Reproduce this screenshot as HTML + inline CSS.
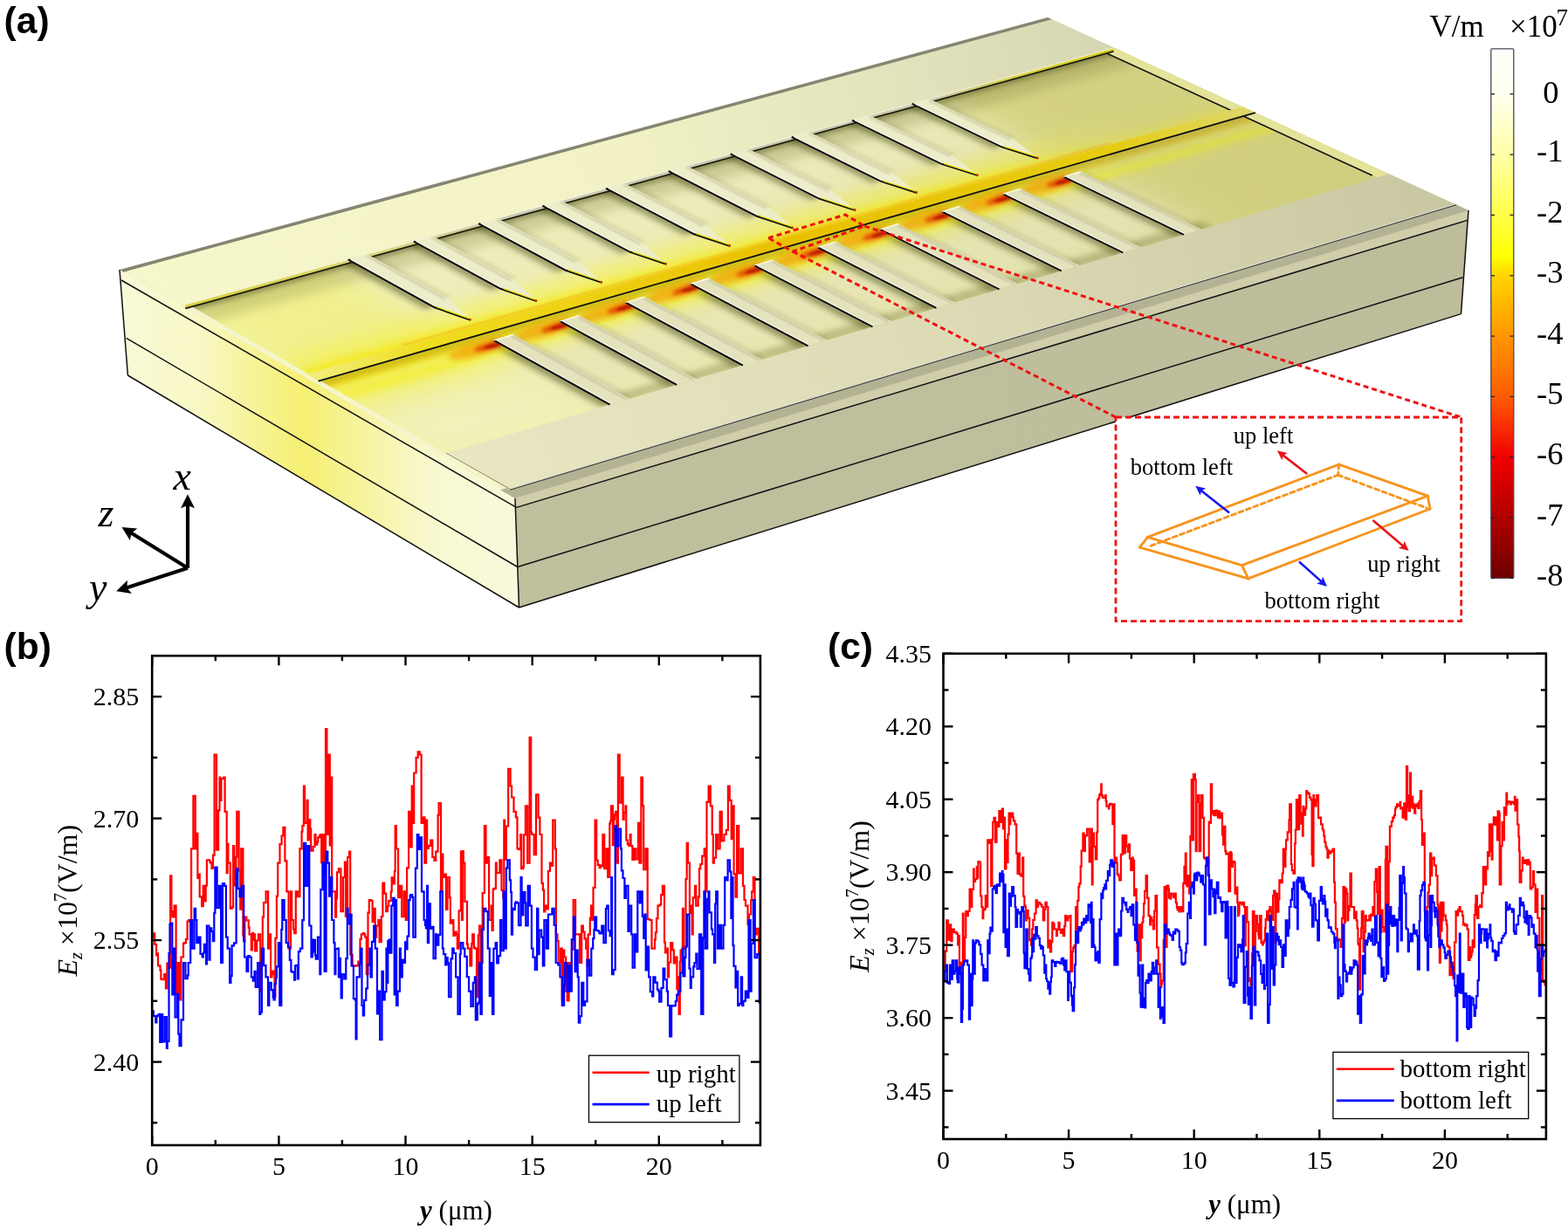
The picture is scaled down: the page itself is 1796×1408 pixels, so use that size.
<!DOCTYPE html>
<html><head><meta charset="utf-8"><title>Figure</title>
<style>html,body{margin:0;padding:0;background:#fff;width:1796px;height:1408px;overflow:hidden;} svg{display:block;}</style></head>
<body><svg width="1796" height="1408" viewBox="0 0 1796 1408">
<defs><linearGradient id="gLeft" gradientUnits="userSpaceOnUse" x1="137" y1="0" x2="594" y2="0">
<stop offset="0" stop-color="#f9f9d9"/><stop offset="0.2" stop-color="#f8f8c6"/>
<stop offset="0.31" stop-color="#f7f4a0"/><stop offset="0.46" stop-color="#f5ef72"/><stop offset="0.62" stop-color="#f7f4a2"/>
<stop offset="0.78" stop-color="#f8f8d0"/><stop offset="1" stop-color="#f9f9dc"/></linearGradient><linearGradient id="gFront" gradientUnits="userSpaceOnUse" x1="590" y1="0" x2="1682" y2="0">
<stop offset="0" stop-color="#c0bf9e"/><stop offset="1" stop-color="#bdbc9b"/></linearGradient><linearGradient id="gTop" gradientUnits="userSpaceOnUse" x1="300" y1="450" x2="1500" y2="100">
<stop offset="0" stop-color="#f3f3a4"/><stop offset="0.35" stop-color="#eeee9c"/>
<stop offset="0.7" stop-color="#dcdb8c"/><stop offset="1" stop-color="#d0cf84"/></linearGradient><clipPath id="cTop"><polygon points="137.0,309.0 1200.0,20.0 1682.0,241.0 590.0,571.0"/></clipPath><filter id="blur6" x="-20%" y="-20%" width="140%" height="140%"><feGaussianBlur stdDeviation="6"/></filter><filter id="blur3" x="-20%" y="-20%" width="140%" height="140%"><feGaussianBlur stdDeviation="3"/></filter><filter id="blur4" x="-20%" y="-20%" width="140%" height="140%"><feGaussianBlur stdDeviation="4"/></filter><filter id="blur10" x="-20%" y="-20%" width="140%" height="140%"><feGaussianBlur stdDeviation="10"/></filter><filter id="blur16" x="-20%" y="-20%" width="140%" height="140%"><feGaussianBlur stdDeviation="16"/></filter><filter id="blur2" x="-50%" y="-50%" width="200%" height="200%"><feGaussianBlur stdDeviation="2"/></filter><filter id="blur1" x="-50%" y="-50%" width="200%" height="200%"><feGaussianBlur stdDeviation="1.2"/></filter><linearGradient id="gGlow1" gradientUnits="userSpaceOnUse" x1="1129.6" y1="214.1" x2="1293.6" y2="167.1"><stop offset="0" stop-color="#f6ef40" stop-opacity="1"/><stop offset="1" stop-color="#f6ef40" stop-opacity="0.15"/></linearGradient><linearGradient id="gGlow2" gradientUnits="userSpaceOnUse" x1="1129.6" y1="214.1" x2="1293.6" y2="167.1"><stop offset="0" stop-color="#f4e600" stop-opacity="1"/><stop offset="1" stop-color="#f4e600" stop-opacity="0.3"/></linearGradient><linearGradient id="gBack" gradientUnits="userSpaceOnUse" x1="150" y1="330" x2="1278" y2="40">
<stop offset="0" stop-color="#f7f7cc"/><stop offset="0.5" stop-color="#f2f2c6"/><stop offset="1" stop-color="#d6d6b4"/></linearGradient><linearGradient id="gBackSide" gradientUnits="userSpaceOnUse" x1="213" y1="347" x2="1278" y2="55">
<stop offset="0" stop-color="#d8d040"/><stop offset="0.18" stop-color="#dcd870"/><stop offset="0.35" stop-color="#c8c8b0"/><stop offset="0.8" stop-color="#c8c8b0"/><stop offset="0.9" stop-color="#d8d040"/><stop offset="1" stop-color="#d4cc20"/></linearGradient><linearGradient id="gCen" gradientUnits="userSpaceOnUse" x1="352" y1="434" x2="1438" y2="128">
<stop offset="0" stop-color="#f2ee80"/><stop offset="0.12" stop-color="#f0de20"/><stop offset="0.5" stop-color="#eac000"/><stop offset="0.85" stop-color="#e6cc10"/><stop offset="1" stop-color="#dcd870"/></linearGradient><linearGradient id="gFs" gradientUnits="userSpaceOnUse" x1="510" y1="540" x2="1666" y2="215">
<stop offset="0" stop-color="#e9e7c2"/><stop offset="0.5" stop-color="#dddbb5"/><stop offset="1" stop-color="#c9c7a2"/></linearGradient><linearGradient id="gCb" x1="0" y1="0" x2="0" y2="1">
<stop offset="0" stop-color="#fffffa"/><stop offset="0.0857" stop-color="#fffff0"/>
<stop offset="0.2" stop-color="#ffffa6"/><stop offset="0.3143" stop-color="#ffff48"/>
<stop offset="0.394" stop-color="#ffff00"/><stop offset="0.4286" stop-color="#ffd400"/>
<stop offset="0.5429" stop-color="#ff9600"/><stop offset="0.6571" stop-color="#ff5c00"/>
<stop offset="0.7714" stop-color="#f00000"/><stop offset="0.8857" stop-color="#b00000"/><stop offset="1" stop-color="#6e0000"/></linearGradient><clipPath id="cpb"><rect x="174.2" y="751.3" width="696.7" height="560.7"/></clipPath><clipPath id="cpc"><rect x="1080.5" y="748.8" width="690.4000000000001" height="556.2"/></clipPath></defs>
<rect width="1796" height="1408" fill="#fff"/>
<polygon points="137.0,309.0 590.0,571.0 594.5,696.0 146.4,430.0" fill="url(#gLeft)"/><polygon points="590.0,571.0 1682.0,241.0 1673.5,359.6 594.5,696.0" fill="url(#gFront)"/><polygon points="590.0,571.0 1682.0,241.0 1680.6,252.4 591.6,581.4" fill="#cfcdaa"/><polygon points="137.0,309.0 1200.0,20.0 1682.0,241.0 590.0,571.0" fill="url(#gTop)"/><g clip-path="url(#cTop)"><polygon points="381.9,303.5 1078.4,110.8 1194.6,166.4 493.4,365.5" fill="#ecebc4" opacity="0.75" filter="url(#blur16)"/><polygon points="566.7,406.3 1271.0,202.9 1388.4,259.1 679.6,469.1" fill="#e6e5bc" opacity="0.8" filter="url(#blur16)"/><polygon points="188.2,338.6 348.8,294.4 573.7,419.9 410.6,467.2" fill="#f0ee78" opacity="0.45" filter="url(#blur16)"/><polygon points="429.0,477.9 603.9,427.0 693.9,477.1 518.1,529.4" fill="#f2f2cc" opacity="0.6" filter="url(#blur16)"/><polygon points="1046.5,95.6 1245.6,40.9 1631.0,217.6 1428.4,278.2" fill="#cfcd78" opacity="0.45" filter="url(#blur16)"/><polygon points="315.4,412.2 1390.4,107.3 1482.0,149.3 401.4,461.9" fill="url(#gGlow1)" opacity="0.5" filter="url(#blur10)"/><polygon points="338.7,425.7 1415.3,118.7 1452.8,135.9 374.0,446.1" fill="url(#gGlow2)" opacity="0.65" filter="url(#blur4)"/><polygon points="205.5,348.6 1273.2,53.6 1287.1,59.9 218.5,356.1" fill="#4a4a1c" opacity="0.5" filter="url(#blur3)"/><polygon points="205.5,348.6 1273.2,53.6 1310.3,70.6 240.2,368.7" fill="#4a4a1c" opacity="0.18" filter="url(#blur6)"/><polygon points="684.9,457.4 1376.0,253.2 1390.9,260.3 699.3,465.3" fill="#4a4a1c" opacity="0.25" filter="url(#blur3)"/><polygon points="359.5,437.7 1437.4,128.8 1445.6,132.6 367.2,442.1" fill="#6a6020" opacity="0.35" filter="url(#blur3)"/><polygon points="390.4,301.1 400.6,298.3 496.3,351.4 486.1,354.3" fill="#484818" opacity="0.42" filter="url(#blur3)"/><polygon points="556.8,393.5 567.1,390.6 697.7,462.9 687.3,466.0" fill="#484818" opacity="0.42" filter="url(#blur3)"/><polygon points="396.1,299.6 400.6,298.3 496.3,351.4 491.8,352.7" fill="#404010" opacity="0.35" filter="url(#blur2)"/><polygon points="562.5,391.9 567.1,390.6 697.7,462.9 693.0,464.3" fill="#404010" opacity="0.35" filter="url(#blur2)"/><polygon points="422.6,292.2 427.1,291.0 516.2,340.1 511.7,341.4" fill="#505020" opacity="0.18" filter="url(#blur2)"/><polygon points="589.3,384.2 593.9,382.9 724.7,454.9 720.1,456.3" fill="#505020" opacity="0.18" filter="url(#blur2)"/><polygon points="465.7,280.3 475.7,277.5 571.9,330.0 561.8,332.9" fill="#484818" opacity="0.42" filter="url(#blur3)"/><polygon points="632.9,371.7 643.0,368.7 774.2,440.2 764.0,443.3" fill="#484818" opacity="0.42" filter="url(#blur3)"/><polygon points="471.2,278.8 475.7,277.5 571.9,330.0 567.4,331.3" fill="#404010" opacity="0.35" filter="url(#blur2)"/><polygon points="638.5,370.0 643.0,368.7 774.2,440.2 769.7,441.6" fill="#404010" opacity="0.35" filter="url(#blur2)"/><polygon points="497.4,271.5 501.9,270.3 591.5,318.8 587.0,320.1" fill="#505020" opacity="0.18" filter="url(#blur2)"/><polygon points="665.0,362.4 669.5,361.1 800.9,432.3 796.4,433.7" fill="#505020" opacity="0.18" filter="url(#blur2)"/><polygon points="540.0,259.8 549.9,257.0 646.7,308.9 636.7,311.7" fill="#484818" opacity="0.42" filter="url(#blur3)"/><polygon points="708.0,350.0 718.1,347.2 849.9,417.8 839.8,420.8" fill="#484818" opacity="0.42" filter="url(#blur3)"/><polygon points="545.5,258.2 549.9,257.0 646.7,308.9 642.2,310.1" fill="#404010" opacity="0.35" filter="url(#blur2)"/><polygon points="713.6,348.4 718.1,347.2 849.9,417.8 845.4,419.2" fill="#404010" opacity="0.35" filter="url(#blur2)"/><polygon points="571.4,251.1 575.8,249.8 665.9,297.8 661.4,299.1" fill="#505020" opacity="0.18" filter="url(#blur2)"/><polygon points="739.8,340.9 744.2,339.6 876.3,410.0 871.8,411.4" fill="#505020" opacity="0.18" filter="url(#blur2)"/><polygon points="613.5,239.4 623.3,236.7 720.5,288.0 710.6,290.8" fill="#484818" opacity="0.42" filter="url(#blur3)"/><polygon points="782.3,328.7 792.3,325.8 924.7,395.7 914.7,398.7" fill="#484818" opacity="0.42" filter="url(#blur3)"/><polygon points="619.0,237.9 623.3,236.7 720.5,288.0 716.1,289.2" fill="#404010" opacity="0.35" filter="url(#blur2)"/><polygon points="787.8,327.1 792.3,325.8 924.7,395.7 920.2,397.0" fill="#404010" opacity="0.35" filter="url(#blur2)"/><polygon points="644.6,230.8 648.9,229.6 739.4,277.1 735.0,278.3" fill="#505020" opacity="0.18" filter="url(#blur2)"/><polygon points="813.7,319.7 818.1,318.4 950.7,388.0 946.3,389.3" fill="#505020" opacity="0.18" filter="url(#blur2)"/><polygon points="686.2,219.3 695.9,216.6 793.5,267.3 783.7,270.1" fill="#484818" opacity="0.42" filter="url(#blur3)"/><polygon points="855.7,307.6 865.6,304.8 998.5,373.8 988.6,376.7" fill="#484818" opacity="0.42" filter="url(#blur3)"/><polygon points="691.6,217.8 695.9,216.6 793.5,267.3 789.1,268.6" fill="#404010" opacity="0.35" filter="url(#blur2)"/><polygon points="861.2,306.0 865.6,304.8 998.5,373.8 994.1,375.1" fill="#404010" opacity="0.35" filter="url(#blur2)"/><polygon points="716.9,210.8 721.2,209.6 812.0,256.6 807.7,257.8" fill="#505020" opacity="0.18" filter="url(#blur2)"/><polygon points="886.8,298.7 891.1,297.4 1024.3,366.2 1019.9,367.5" fill="#505020" opacity="0.18" filter="url(#blur2)"/><polygon points="758.0,199.5 767.6,196.8 865.6,246.9 856.0,249.7" fill="#484818" opacity="0.42" filter="url(#blur3)"/><polygon points="928.3,286.7 938.0,283.9 1071.5,352.2 1061.8,355.1" fill="#484818" opacity="0.42" filter="url(#blur3)"/><polygon points="763.3,198.0 767.6,196.8 865.6,246.9 861.3,248.1" fill="#404010" opacity="0.35" filter="url(#blur2)"/><polygon points="933.7,285.2 938.0,283.9 1071.5,352.2 1067.2,353.5" fill="#404010" opacity="0.35" filter="url(#blur2)"/><polygon points="788.3,191.1 792.6,189.9 883.8,236.3 879.6,237.5" fill="#505020" opacity="0.18" filter="url(#blur2)"/><polygon points="959.0,277.9 963.3,276.7 1097.0,344.7 1092.6,345.9" fill="#505020" opacity="0.18" filter="url(#blur2)"/><polygon points="829.0,179.8 838.5,177.2 936.9,226.8 927.4,229.5" fill="#484818" opacity="0.42" filter="url(#blur3)"/><polygon points="1000.0,266.1 1009.6,263.3 1143.6,330.8 1134.0,333.7" fill="#484818" opacity="0.42" filter="url(#blur3)"/><polygon points="834.3,178.4 838.5,177.2 936.9,226.8 932.7,228.0" fill="#404010" opacity="0.35" filter="url(#blur2)"/><polygon points="1005.4,264.6 1009.6,263.3 1143.6,330.8 1139.4,332.1" fill="#404010" opacity="0.35" filter="url(#blur2)"/><polygon points="859.0,171.5 863.2,170.4 954.8,216.2 950.6,217.4" fill="#505020" opacity="0.18" filter="url(#blur2)"/><polygon points="1030.3,257.4 1034.6,256.2 1168.8,323.4 1164.5,324.7" fill="#505020" opacity="0.18" filter="url(#blur2)"/><polygon points="899.2,160.4 908.6,157.8 1007.4,206.8 998.0,209.5" fill="#484818" opacity="0.42" filter="url(#blur3)"/><polygon points="1070.9,245.7 1080.4,243.0 1214.9,309.7 1205.4,312.5" fill="#484818" opacity="0.42" filter="url(#blur3)"/><polygon points="904.4,159.0 908.6,157.8 1007.4,206.8 1003.3,208.0" fill="#404010" opacity="0.35" filter="url(#blur2)"/><polygon points="1076.2,244.2 1080.4,243.0 1214.9,309.7 1210.7,311.0" fill="#404010" opacity="0.35" filter="url(#blur2)"/><polygon points="928.9,152.2 933.0,151.0 1025.0,196.4 1020.9,197.6" fill="#505020" opacity="0.18" filter="url(#blur2)"/><polygon points="1100.9,237.1 1105.1,235.9 1239.8,302.4 1235.5,303.6" fill="#505020" opacity="0.18" filter="url(#blur2)"/><polygon points="968.6,141.2 977.9,138.6 1077.2,187.1 1067.8,189.7" fill="#484818" opacity="0.42" filter="url(#blur3)"/><polygon points="1141.0,225.6 1150.4,222.9 1285.4,288.9 1275.9,291.6" fill="#484818" opacity="0.42" filter="url(#blur3)"/><polygon points="973.8,139.8 977.9,138.6 1077.2,187.1 1073.0,188.3" fill="#404010" opacity="0.35" filter="url(#blur2)"/><polygon points="1146.2,224.1 1150.4,222.9 1285.4,288.9 1281.2,290.1" fill="#404010" opacity="0.35" filter="url(#blur2)"/><polygon points="998.0,133.1 1002.1,131.9 1094.4,176.8 1090.3,178.0" fill="#505020" opacity="0.18" filter="url(#blur2)"/><polygon points="1170.6,217.1 1174.8,215.9 1309.9,281.6 1305.8,282.8" fill="#505020" opacity="0.18" filter="url(#blur2)"/><polygon points="1037.3,122.2 1046.5,119.7 1146.1,167.6 1136.8,170.2" fill="#484818" opacity="0.42" filter="url(#blur3)"/><polygon points="1210.3,205.7 1219.5,203.0 1355.0,268.2 1345.7,271.0" fill="#484818" opacity="0.42" filter="url(#blur3)"/><polygon points="1042.4,120.8 1046.5,119.7 1146.1,167.6 1142.0,168.8" fill="#404010" opacity="0.35" filter="url(#blur2)"/><polygon points="1215.4,204.2 1219.5,203.0 1355.0,268.2 1350.9,269.5" fill="#404010" opacity="0.35" filter="url(#blur2)"/><polygon points="1066.3,114.2 1070.4,113.1 1163.0,157.4 1159.0,158.6" fill="#505020" opacity="0.18" filter="url(#blur2)"/><polygon points="1239.6,197.2 1243.7,196.1 1379.3,261.0 1375.1,262.3" fill="#505020" opacity="0.18" filter="url(#blur2)"/><polygon points="360.4,438.2 1438.4,129.3 1451.4,135.3 372.6,445.3" fill="#d8a800" opacity="0.25" filter="url(#blur2)"/><polygon points="380.8,450.0 1460.1,139.3 1474.7,145.9 394.5,457.9" fill="#f0ee00" opacity="0.35" filter="url(#blur3)"/><ellipse cx="547.9" cy="399.2" rx="35.8" ry="8.1" transform="rotate(-16.1 547.9 399.2)" fill="#f0a000" opacity="0.75" filter="url(#blur3)"/><ellipse cx="561.8" cy="396.3" rx="19.1" ry="3.8" transform="rotate(-16.1 561.8 396.3)" fill="#e03800" opacity="0.85" filter="url(#blur2)"/><ellipse cx="565.7" cy="395.6" rx="11.9" ry="2.3" transform="rotate(-16.1 565.7 395.6)" fill="#b81400" opacity="0.85" filter="url(#blur1)"/><ellipse cx="624.1" cy="377.3" rx="35.4" ry="8.1" transform="rotate(-16.1 624.1 377.3)" fill="#f0a000" opacity="0.75" filter="url(#blur3)"/><ellipse cx="638.0" cy="374.4" rx="18.8" ry="3.8" transform="rotate(-16.1 638.0 374.4)" fill="#e03800" opacity="0.85" filter="url(#blur2)"/><ellipse cx="641.8" cy="373.7" rx="11.8" ry="2.3" transform="rotate(-16.1 641.8 373.7)" fill="#b81400" opacity="0.85" filter="url(#blur1)"/><ellipse cx="699.5" cy="355.6" rx="34.9" ry="8.1" transform="rotate(-16.1 699.5 355.6)" fill="#f0a000" opacity="0.75" filter="url(#blur3)"/><ellipse cx="713.2" cy="352.8" rx="18.6" ry="3.8" transform="rotate(-16.1 713.2 352.8)" fill="#e03800" opacity="0.85" filter="url(#blur2)"/><ellipse cx="717.0" cy="352.1" rx="11.6" ry="2.3" transform="rotate(-16.1 717.0 352.1)" fill="#b81400" opacity="0.85" filter="url(#blur1)"/><ellipse cx="773.9" cy="334.2" rx="34.5" ry="8.1" transform="rotate(-16.1 773.9 334.2)" fill="#f0a000" opacity="0.75" filter="url(#blur3)"/><ellipse cx="787.5" cy="331.4" rx="18.4" ry="3.8" transform="rotate(-16.1 787.5 331.4)" fill="#e03800" opacity="0.85" filter="url(#blur2)"/><ellipse cx="791.3" cy="330.7" rx="11.5" ry="2.3" transform="rotate(-16.1 791.3 330.7)" fill="#b81400" opacity="0.85" filter="url(#blur1)"/><ellipse cx="847.5" cy="313.0" rx="34.1" ry="8.2" transform="rotate(-16.1 847.5 313.0)" fill="#f0a000" opacity="0.75" filter="url(#blur3)"/><ellipse cx="860.9" cy="310.3" rx="18.2" ry="3.8" transform="rotate(-16.1 860.9 310.3)" fill="#e03800" opacity="0.85" filter="url(#blur2)"/><ellipse cx="864.7" cy="309.6" rx="11.4" ry="2.3" transform="rotate(-16.1 864.7 309.6)" fill="#b81400" opacity="0.85" filter="url(#blur1)"/><ellipse cx="920.2" cy="292.1" rx="33.7" ry="8.2" transform="rotate(-16.1 920.2 292.1)" fill="#f0a000" opacity="0.75" filter="url(#blur3)"/><ellipse cx="933.5" cy="289.4" rx="18.0" ry="3.8" transform="rotate(-16.1 933.5 289.4)" fill="#e03800" opacity="0.85" filter="url(#blur2)"/><ellipse cx="937.2" cy="288.7" rx="11.2" ry="2.3" transform="rotate(-16.1 937.2 288.7)" fill="#b81400" opacity="0.85" filter="url(#blur1)"/><ellipse cx="992.1" cy="271.4" rx="33.3" ry="8.2" transform="rotate(-16.1 992.1 271.4)" fill="#f0a000" opacity="0.75" filter="url(#blur3)"/><ellipse cx="1005.2" cy="268.7" rx="17.8" ry="3.8" transform="rotate(-16.1 1005.2 268.7)" fill="#e03800" opacity="0.85" filter="url(#blur2)"/><ellipse cx="1008.9" cy="268.1" rx="11.1" ry="2.3" transform="rotate(-16.1 1008.9 268.1)" fill="#b81400" opacity="0.85" filter="url(#blur1)"/><ellipse cx="1063.1" cy="251.0" rx="33.0" ry="8.2" transform="rotate(-16.1 1063.1 251.0)" fill="#f0a000" opacity="0.75" filter="url(#blur3)"/><ellipse cx="1076.2" cy="248.3" rx="17.5" ry="3.8" transform="rotate(-16.1 1076.2 248.3)" fill="#e03800" opacity="0.85" filter="url(#blur2)"/><ellipse cx="1079.8" cy="247.6" rx="11.0" ry="2.3" transform="rotate(-16.1 1079.8 247.6)" fill="#b81400" opacity="0.85" filter="url(#blur1)"/><ellipse cx="1133.3" cy="230.7" rx="32.6" ry="8.2" transform="rotate(-16.1 1133.3 230.7)" fill="#f0a000" opacity="0.75" filter="url(#blur3)"/><ellipse cx="1146.3" cy="228.1" rx="17.3" ry="3.8" transform="rotate(-16.1 1146.3 228.1)" fill="#e03800" opacity="0.85" filter="url(#blur2)"/><ellipse cx="1149.9" cy="227.5" rx="10.8" ry="2.3" transform="rotate(-16.1 1149.9 227.5)" fill="#b81400" opacity="0.85" filter="url(#blur1)"/><ellipse cx="1202.8" cy="210.8" rx="32.2" ry="8.2" transform="rotate(-16.1 1202.8 210.8)" fill="#f0a000" opacity="0.75" filter="url(#blur3)"/><ellipse cx="1215.5" cy="208.2" rx="17.1" ry="3.8" transform="rotate(-16.1 1215.5 208.2)" fill="#e03800" opacity="0.85" filter="url(#blur2)"/><ellipse cx="1219.1" cy="207.5" rx="10.7" ry="2.3" transform="rotate(-16.1 1219.1 207.5)" fill="#b81400" opacity="0.85" filter="url(#blur1)"/><polygon points="459.6,395.0 1270.1,163.7 1273.9,165.5 463.2,397.1" fill="#f08000" opacity="0.35" filter="url(#blur1)"/></g><polygon points="137.0,309.0 143.4,307.3 596.6,569.0 590.0,571.0" fill="#f5f5cc"/><polygon points="1259.4,57.4 1273.2,53.6 1595.8,201.5 1581.8,205.6" fill="#e4e39a"/><polyline points="1264.1,59.5 1571.8,201.0" stroke="#111" stroke-width="1.6" fill="none"/><polygon points="137.0,309.0 1200.0,20.0 1205.0,22.3 141.7,311.7" fill="#858576"/><polygon points="212.3,348.6 1275.5,54.6 1275.5,58.6 212.3,353.1" fill="url(#gBackSide)"/><line x1="212.3" y1="353.4" x2="1275.5" y2="58.9" stroke="#1a1a08" stroke-width="1.7"/><polygon points="146.3,310.4 1205.0,22.3 1275.5,54.6 212.3,348.6" fill="url(#gBack)"/><line x1="212.3" y1="348.9" x2="1275.5" y2="54.9" stroke="#fbfbe8" stroke-width="1"/><polygon points="350.6,428.5 1423.0,122.2 1437.4,128.8 364.2,436.3" fill="url(#gCen)"/><polyline points="364.6,436.6 1437.9,129.1" stroke="#111" stroke-width="1.8" fill="none"/><polyline points="346.4,430.1 1423.4,122.4" stroke="#f8f0a0" stroke-width="0.8" fill="none" stroke-dasharray="3 3" opacity="0.4"/><polygon points="573.1,561.2 1664.1,232.8 1682.0,241.0 590.0,571.0" fill="#b4b294"/><polygon points="511.0,519.1 1590.7,199.2 1666.6,234.0 582.6,560.5" fill="url(#gFs)"/><polyline points="582.6,560.5 1666.6,234.0" stroke="#dadad0" stroke-width="1.3" fill="none"/><polyline points="584.1,561.3 1668.2,234.7" stroke="#333" stroke-width="1.0" fill="none"/><polyline points="511.0,519.1 584.8,560.7" stroke="#8a8a70" stroke-width="1.0" fill="none"/><polygon points="398.8,297.3 420.8,291.3 513.5,342.4 539.3,366.6 497.7,352.1" fill="#eeedca"/><polyline points="419.8,293.0 509.8,342.7" stroke="#9c9c70" stroke-width="2" opacity="0.45" fill="none" filter="url(#blur1)"/><polyline points="398.8,297.3 497.7,352.1 539.3,366.6" stroke="#111" stroke-width="2.3" fill="none"/><polyline points="401.8,297.3 498.8,351.0" stroke="#fffff4" stroke-width="1" fill="none"/><polyline points="500.2,351.7 537.7,364.9" stroke="#ece400" stroke-width="1.3" fill="none"/><circle cx="538.3" cy="366.1" r="1.3" fill="#e03000"/><polygon points="565.7,389.8 587.9,383.4 721.0,456.8 698.6,463.5" fill="#e4e3be"/><polyline points="586.5,385.0 717.2,457.1" stroke="#9c9c70" stroke-width="2" opacity="0.45" fill="none" filter="url(#blur1)"/><polyline points="565.7,389.8 698.6,463.5" stroke="#111" stroke-width="2.3" fill="none"/><polyline points="568.7,389.7 699.7,462.3" stroke="#fffff4" stroke-width="1" fill="none"/><polyline points="565.7,389.8 587.9,383.4" stroke="#fffff4" stroke-width="1.2" fill="none"/><polygon points="473.9,276.6 495.7,270.6 588.8,321.1 614.9,345.0 573.3,330.7" fill="#eeedca"/><polyline points="494.7,272.3 585.1,321.4" stroke="#9c9c70" stroke-width="2" opacity="0.45" fill="none" filter="url(#blur1)"/><polyline points="473.9,276.6 573.3,330.7 614.9,345.0" stroke="#111" stroke-width="2.3" fill="none"/><polyline points="476.8,276.5 574.4,329.7" stroke="#fffff4" stroke-width="1" fill="none"/><polyline points="575.9,330.3 613.4,343.3" stroke="#ece400" stroke-width="1.3" fill="none"/><circle cx="614.0" cy="344.5" r="1.3" fill="#e03000"/><polygon points="641.6,368.0 663.6,361.7 797.4,434.2 775.2,440.8" fill="#e4e3be"/><polyline points="662.2,363.2 793.6,434.5" stroke="#9c9c70" stroke-width="2" opacity="0.45" fill="none" filter="url(#blur1)"/><polyline points="641.6,368.0 775.2,440.8" stroke="#111" stroke-width="2.3" fill="none"/><polyline points="644.6,367.9 776.3,439.6" stroke="#fffff4" stroke-width="1" fill="none"/><polyline points="641.6,368.0 663.6,361.7" stroke="#fffff4" stroke-width="1.2" fill="none"/><polygon points="548.2,256.1 569.6,250.1 663.3,300.1 689.7,323.7 648.0,309.6" fill="#eeedca"/><polyline points="568.7,251.8 659.6,300.4" stroke="#9c9c70" stroke-width="2" opacity="0.45" fill="none" filter="url(#blur1)"/><polyline points="548.2,256.1 648.0,309.6 689.7,323.7" stroke="#111" stroke-width="2.3" fill="none"/><polyline points="551.0,256.0 649.1,308.5" stroke="#fffff4" stroke-width="1" fill="none"/><polyline points="650.6,309.2 688.1,322.0" stroke="#ece400" stroke-width="1.3" fill="none"/><circle cx="688.7" cy="323.2" r="1.3" fill="#e03000"/><polygon points="716.7,346.4 738.4,340.2 872.8,411.9 850.9,418.4" fill="#e4e3be"/><polyline points="737.0,341.7 869.0,412.2" stroke="#9c9c70" stroke-width="2" opacity="0.45" fill="none" filter="url(#blur1)"/><polyline points="716.7,346.4 850.9,418.4" stroke="#111" stroke-width="2.3" fill="none"/><polyline points="719.6,346.3 851.9,417.2" stroke="#fffff4" stroke-width="1" fill="none"/><polyline points="716.7,346.4 738.4,340.2" stroke="#fffff4" stroke-width="1.2" fill="none"/><polygon points="621.5,235.8 642.8,229.9 736.8,279.3 763.5,302.6 721.9,288.7" fill="#eeedca"/><polyline points="641.8,231.6 733.2,279.6" stroke="#9c9c70" stroke-width="2" opacity="0.45" fill="none" filter="url(#blur1)"/><polyline points="621.5,235.8 721.9,288.7 763.5,302.6" stroke="#111" stroke-width="2.3" fill="none"/><polyline points="624.4,235.7 722.9,287.7" stroke="#fffff4" stroke-width="1" fill="none"/><polyline points="724.4,288.3 762.0,301.0" stroke="#ece400" stroke-width="1.3" fill="none"/><circle cx="762.6" cy="302.2" r="1.3" fill="#e03000"/><polygon points="790.9,325.1 812.3,318.9 947.3,389.8 925.6,396.2" fill="#e4e3be"/><polyline points="811.0,320.5 943.5,390.1" stroke="#9c9c70" stroke-width="2" opacity="0.45" fill="none" filter="url(#blur1)"/><polyline points="790.9,325.1 925.6,396.2" stroke="#111" stroke-width="2.3" fill="none"/><polyline points="793.8,325.0 926.7,395.1" stroke="#fffff4" stroke-width="1" fill="none"/><polyline points="790.9,325.1 812.3,318.9" stroke="#fffff4" stroke-width="1.2" fill="none"/><polygon points="694.1,215.7 715.1,209.9 809.5,258.7 836.6,281.8 794.9,268.1" fill="#eeedca"/><polyline points="714.2,211.6 805.9,259.0" stroke="#9c9c70" stroke-width="2" opacity="0.45" fill="none" filter="url(#blur1)"/><polyline points="694.1,215.7 794.9,268.1 836.6,281.8" stroke="#111" stroke-width="2.3" fill="none"/><polyline points="696.9,215.6 795.9,267.0" stroke="#fffff4" stroke-width="1" fill="none"/><polyline points="797.4,267.6 835.0,280.2" stroke="#ece400" stroke-width="1.3" fill="none"/><circle cx="835.6" cy="281.4" r="1.3" fill="#e03000"/><polygon points="864.1,304.0 885.4,297.9 1020.9,368.0 999.5,374.3" fill="#e4e3be"/><polyline points="884.0,299.4 1017.2,368.3" stroke="#9c9c70" stroke-width="2" opacity="0.45" fill="none" filter="url(#blur1)"/><polyline points="864.1,304.0 999.5,374.3" stroke="#111" stroke-width="2.3" fill="none"/><polyline points="867.0,304.0 1000.5,373.2" stroke="#fffff4" stroke-width="1" fill="none"/><polyline points="864.1,304.0 885.4,297.9" stroke="#fffff4" stroke-width="1.2" fill="none"/><polygon points="765.8,195.9 786.5,190.1 881.4,238.4 908.7,261.3 867.0,247.6" fill="#eeedca"/><polyline points="785.7,191.8 877.8,238.7" stroke="#9c9c70" stroke-width="2" opacity="0.45" fill="none" filter="url(#blur1)"/><polyline points="765.8,195.9 867.0,247.6 908.7,261.3" stroke="#111" stroke-width="2.3" fill="none"/><polyline points="768.6,195.8 868.0,246.6" stroke="#fffff4" stroke-width="1" fill="none"/><polyline points="869.6,247.2 907.2,259.6" stroke="#ece400" stroke-width="1.3" fill="none"/><circle cx="907.8" cy="260.8" r="1.3" fill="#e03000"/><polygon points="936.6,283.2 957.5,277.2 1093.6,346.4 1072.5,352.7" fill="#e4e3be"/><polyline points="956.3,278.7 1089.9,346.7" stroke="#9c9c70" stroke-width="2" opacity="0.45" fill="none" filter="url(#blur1)"/><polyline points="936.6,283.2 1072.5,352.7" stroke="#111" stroke-width="2.3" fill="none"/><polyline points="939.5,283.1 1073.5,351.6" stroke="#fffff4" stroke-width="1" fill="none"/><polyline points="936.6,283.2 957.5,277.2" stroke="#fffff4" stroke-width="1.2" fill="none"/><polygon points="836.7,176.3 857.2,170.6 952.5,218.4 980.1,240.9 938.3,227.5" fill="#eeedca"/><polyline points="856.4,172.2 948.9,218.6" stroke="#9c9c70" stroke-width="2" opacity="0.45" fill="none" filter="url(#blur1)"/><polyline points="836.7,176.3 938.3,227.5 980.1,240.9" stroke="#111" stroke-width="2.3" fill="none"/><polyline points="839.5,176.2 939.3,226.5" stroke="#fffff4" stroke-width="1" fill="none"/><polyline points="940.9,227.0 978.5,239.3" stroke="#ece400" stroke-width="1.3" fill="none"/><circle cx="979.1" cy="240.5" r="1.3" fill="#e03000"/><polygon points="1008.2,262.6 1028.9,256.7 1165.5,325.1 1144.6,331.3" fill="#e4e3be"/><polyline points="1027.7,258.2 1161.8,325.4" stroke="#9c9c70" stroke-width="2" opacity="0.45" fill="none" filter="url(#blur1)"/><polyline points="1008.2,262.6 1144.6,331.3" stroke="#111" stroke-width="2.3" fill="none"/><polyline points="1011.1,262.6 1145.6,330.3" stroke="#fffff4" stroke-width="1" fill="none"/><polyline points="1008.2,262.6 1028.9,256.7" stroke="#fffff4" stroke-width="1.2" fill="none"/><polygon points="906.8,156.9 927.1,151.3 1022.7,198.5 1050.6,220.8 1008.8,207.5" fill="#eeedca"/><polyline points="926.3,152.9 1019.2,198.8" stroke="#9c9c70" stroke-width="2" opacity="0.45" fill="none" filter="url(#blur1)"/><polyline points="906.8,156.9 1008.8,207.5 1050.6,220.8" stroke="#111" stroke-width="2.3" fill="none"/><polyline points="909.6,156.8 1009.8,206.5" stroke="#fffff4" stroke-width="1" fill="none"/><polyline points="1011.4,207.1 1049.1,219.2" stroke="#ece400" stroke-width="1.3" fill="none"/><circle cx="1049.7" cy="220.4" r="1.3" fill="#e03000"/><polygon points="1079.0,242.3 1099.4,236.4 1236.5,304.1 1215.9,310.2" fill="#e4e3be"/><polyline points="1098.3,237.9 1232.9,304.4" stroke="#9c9c70" stroke-width="2" opacity="0.45" fill="none" filter="url(#blur1)"/><polyline points="1079.0,242.3 1215.9,310.2" stroke="#111" stroke-width="2.3" fill="none"/><polyline points="1081.8,242.2 1216.8,309.2" stroke="#fffff4" stroke-width="1" fill="none"/><polyline points="1079.0,242.3 1099.4,236.4" stroke="#fffff4" stroke-width="1.2" fill="none"/><polygon points="976.1,137.7 996.2,132.2 1092.2,178.9 1120.3,201.0 1078.6,187.8" fill="#eeedca"/><polyline points="995.4,133.8 1088.7,179.2" stroke="#9c9c70" stroke-width="2" opacity="0.45" fill="none" filter="url(#blur1)"/><polyline points="976.1,137.7 1078.6,187.8 1120.3,201.0" stroke="#111" stroke-width="2.3" fill="none"/><polyline points="978.9,137.7 1079.5,186.8" stroke="#fffff4" stroke-width="1" fill="none"/><polyline points="1081.1,187.3 1118.8,199.3" stroke="#ece400" stroke-width="1.3" fill="none"/><circle cx="1119.4" cy="200.5" r="1.3" fill="#e03000"/><polygon points="1148.9,222.2 1169.2,216.4 1306.7,283.3 1286.4,289.3" fill="#e4e3be"/><polyline points="1168.0,217.8 1303.1,283.6" stroke="#9c9c70" stroke-width="2" opacity="0.45" fill="none" filter="url(#blur1)"/><polyline points="1148.9,222.2 1286.4,289.3" stroke="#111" stroke-width="2.3" fill="none"/><polyline points="1151.8,222.1 1287.3,288.3" stroke="#fffff4" stroke-width="1" fill="none"/><polyline points="1148.9,222.2 1169.2,216.4" stroke="#fffff4" stroke-width="1.2" fill="none"/><polygon points="1044.7,118.8 1064.5,113.3 1160.8,159.5 1189.2,181.3 1147.5,168.3" fill="#eeedca"/><polyline points="1063.8,114.9 1157.3,159.8" stroke="#9c9c70" stroke-width="2" opacity="0.45" fill="none" filter="url(#blur1)"/><polyline points="1044.7,118.8 1147.5,168.3 1189.2,181.3" stroke="#111" stroke-width="2.3" fill="none"/><polyline points="1047.4,118.7 1148.4,167.3" stroke="#fffff4" stroke-width="1" fill="none"/><polyline points="1150.1,167.8 1187.7,179.7" stroke="#ece400" stroke-width="1.3" fill="none"/><circle cx="1188.3" cy="180.9" r="1.3" fill="#e03000"/><polygon points="1218.1,202.3 1238.1,196.6 1376.1,262.7 1356.0,268.7" fill="#e4e3be"/><polyline points="1237.0,198.0 1372.6,263.0" stroke="#9c9c70" stroke-width="2" opacity="0.45" fill="none" filter="url(#blur1)"/><polyline points="1218.1,202.3 1356.0,268.7" stroke="#111" stroke-width="2.3" fill="none"/><polyline points="1220.9,202.2 1356.9,267.7" stroke="#fffff4" stroke-width="1" fill="none"/><polyline points="1218.1,202.3 1238.1,196.6" stroke="#fffff4" stroke-width="1.2" fill="none"/><line x1="139" y1="321" x2="591.6" y2="581.4" stroke="#111" stroke-width="1.5"/><line x1="144.7" y1="387.4" x2="592.8" y2="649.5" stroke="#111" stroke-width="1.5"/><line x1="146.4" y1="430" x2="594.5" y2="696" stroke="#111" stroke-width="1.5"/><line x1="137" y1="309" x2="146.4" y2="430" stroke="#111" stroke-width="1.5"/><line x1="590" y1="571" x2="594.5" y2="696" stroke="#111" stroke-width="1.5"/><line x1="591.6" y1="581.4" x2="1680.6" y2="252.4" stroke="#111" stroke-width="1.5"/><line x1="592.8" y1="649.5" x2="1675.7" y2="317.7" stroke="#111" stroke-width="1.5"/><line x1="594.5" y1="696" x2="1673.5" y2="359.6" stroke="#111" stroke-width="1.5"/><line x1="1682" y1="241" x2="1673.5" y2="359.6" stroke="#111" stroke-width="1.5"/><polygon points="880.0,272.6 968.2,246.0 990.3,259.1 908.1,288.1" fill="none" stroke="#f01010" stroke-width="3" stroke-dasharray="6 4"/><line x1="908.1" y1="288.1" x2="1278" y2="478" stroke="#f01010" stroke-width="3" stroke-dasharray="6 4"/><line x1="990.3" y1="259.1" x2="1673.7" y2="478" stroke="#f01010" stroke-width="3" stroke-dasharray="6 4"/><rect x="1278" y="478" width="395.7" height="233.6" fill="#fff" stroke="#f01010" stroke-width="2.8" stroke-dasharray="7 4"/><line x1="1314.5" y1="615.4" x2="1533.7" y2="532.1" stroke="#f7941d" stroke-width="2.9" stroke-linecap="round" /><line x1="1533.7" y1="532.1" x2="1635.3" y2="568.2" stroke="#f7941d" stroke-width="2.9" stroke-linecap="round" /><line x1="1635.3" y1="568.2" x2="1422.5" y2="647.6" stroke="#f7941d" stroke-width="2.9" stroke-linecap="round" /><line x1="1422.5" y1="647.6" x2="1314.5" y2="615.4" stroke="#f7941d" stroke-width="2.9" stroke-linecap="round" /><line x1="1305.4" y1="627.1" x2="1429.8" y2="662.9" stroke="#f7941d" stroke-width="2.9" stroke-linecap="round" /><line x1="1429.8" y1="662.9" x2="1638.0" y2="583.0" stroke="#f7941d" stroke-width="2.9" stroke-linecap="round" /><line x1="1314.5" y1="615.4" x2="1305.4" y2="627.1" stroke="#f7941d" stroke-width="2.9" stroke-linecap="round" /><line x1="1422.5" y1="647.6" x2="1429.8" y2="662.9" stroke="#f7941d" stroke-width="2.9" stroke-linecap="round" /><line x1="1635.3" y1="568.2" x2="1638.0" y2="583.0" stroke="#f7941d" stroke-width="2.9" stroke-linecap="round" /><line x1="1318.0" y1="625.3" x2="1532.6" y2="544.2" stroke="#f7941d" stroke-width="2.9" stroke-linecap="round" stroke-dasharray="5 4" stroke-linecap="butt"/><line x1="1532.6" y1="544.2" x2="1634.0" y2="581.9" stroke="#f7941d" stroke-width="2.9" stroke-linecap="round" stroke-dasharray="5 4" stroke-linecap="butt"/><line x1="1533.7" y1="532.1" x2="1532.6" y2="544.2" stroke="#f7941d" stroke-width="2.9" stroke-linecap="round" stroke-dasharray="5 4" stroke-linecap="butt"/><line x1="1497.2" y1="543.0" x2="1468.1" y2="520.4" stroke="#e8141c" stroke-width="2.6"/><polygon points="1462.9,516.3 1474.8,519.0 1469.8,521.7 1468.4,527.2" fill="#e8141c"/><line x1="1408.1" y1="587.6" x2="1374.5" y2="560.9" stroke="#1818f0" stroke-width="2.6"/><polygon points="1369.3,556.8 1381.1,559.6 1376.2,562.3 1374.7,567.7" fill="#1818f0"/><line x1="1572.5" y1="596.0" x2="1608.6" y2="626.7" stroke="#e8141c" stroke-width="2.6"/><polygon points="1613.6,631.0 1601.9,627.8 1606.9,625.3 1608.6,619.9" fill="#e8141c"/><line x1="1488.0" y1="643.5" x2="1515.1" y2="667.6" stroke="#1818f0" stroke-width="2.6"/><polygon points="1520.0,672.0 1508.3,668.6 1513.4,666.1 1515.2,660.8" fill="#1818f0"/><text x="1412.7" y="507.7" font-family="'Liberation Serif','Times New Roman',serif" font-size="26.6" text-anchor="start" >up left</text><text x="1294.7" y="543.5" font-family="'Liberation Serif','Times New Roman',serif" font-size="26.6" text-anchor="start" >bottom left</text><text x="1566.3" y="654.5" font-family="'Liberation Serif','Times New Roman',serif" font-size="26.6" text-anchor="start" >up right</text><text x="1448.5" y="697.2" font-family="'Liberation Serif','Times New Roman',serif" font-size="26.6" text-anchor="start" >bottom right</text><line x1="215.0" y1="650.8" x2="215.0" y2="575.8" stroke="#000" stroke-width="4.2"/><polygon points="215.0,566.2 223.0,582.2 215.0,579.0 207.0,582.2" fill="#000"/><line x1="215.0" y1="650.8" x2="147.7" y2="609.0" stroke="#000" stroke-width="4.2"/><polygon points="139.5,603.9 157.3,605.5 150.4,610.7 148.9,619.1" fill="#000"/><line x1="215.0" y1="650.8" x2="142.3" y2="674.3" stroke="#000" stroke-width="4.2"/><polygon points="133.2,677.3 146.0,664.8 145.4,673.4 150.9,680.0" fill="#000"/><text x="198.5" y="560.8" font-family="'Liberation Serif','Times New Roman',serif" font-size="46" text-anchor="start" font-style="italic">x</text><text x="112.5" y="602.5" font-family="'Liberation Serif','Times New Roman',serif" font-size="46" text-anchor="start" font-style="italic">z</text><text x="102" y="688" font-family="'Liberation Serif','Times New Roman',serif" font-size="46" text-anchor="start" font-style="italic">y</text><rect x="1707.8" y="55.8" width="26" height="606.6" rx="1.5" fill="url(#gCb)" stroke="#474756" stroke-width="1.3"/><line x1="1708" y1="107.7" x2="1712" y2="107.7" stroke="#222" stroke-width="1.3"/><line x1="1729.5" y1="107.7" x2="1733.5" y2="107.7" stroke="#222" stroke-width="1.3"/><text x="1785.5" y="118.0" font-family="'Liberation Serif','Times New Roman',serif" font-size="36.5" text-anchor="end" >0</text><line x1="1708" y1="177.1" x2="1712" y2="177.1" stroke="#222" stroke-width="1.3"/><line x1="1729.5" y1="177.1" x2="1733.5" y2="177.1" stroke="#222" stroke-width="1.3"/><text x="1790.5" y="185.45000000000002" font-family="'Liberation Serif','Times New Roman',serif" font-size="36.5" text-anchor="end" >-1</text><line x1="1708" y1="246.4" x2="1712" y2="246.4" stroke="#222" stroke-width="1.3"/><line x1="1729.5" y1="246.4" x2="1733.5" y2="246.4" stroke="#222" stroke-width="1.3"/><text x="1790.5" y="254.79999999999998" font-family="'Liberation Serif','Times New Roman',serif" font-size="36.5" text-anchor="end" >-2</text><line x1="1708" y1="315.8" x2="1712" y2="315.8" stroke="#222" stroke-width="1.3"/><line x1="1729.5" y1="315.8" x2="1733.5" y2="315.8" stroke="#222" stroke-width="1.3"/><text x="1790.5" y="324.15" font-family="'Liberation Serif','Times New Roman',serif" font-size="36.5" text-anchor="end" >-3</text><line x1="1708" y1="385.1" x2="1712" y2="385.1" stroke="#222" stroke-width="1.3"/><line x1="1729.5" y1="385.1" x2="1733.5" y2="385.1" stroke="#222" stroke-width="1.3"/><text x="1790.5" y="393.49999999999994" font-family="'Liberation Serif','Times New Roman',serif" font-size="36.5" text-anchor="end" >-4</text><line x1="1708" y1="454.4" x2="1712" y2="454.4" stroke="#222" stroke-width="1.3"/><line x1="1729.5" y1="454.4" x2="1733.5" y2="454.4" stroke="#222" stroke-width="1.3"/><text x="1790.5" y="462.84999999999997" font-family="'Liberation Serif','Times New Roman',serif" font-size="36.5" text-anchor="end" >-5</text><line x1="1708" y1="523.8" x2="1712" y2="523.8" stroke="#222" stroke-width="1.3"/><line x1="1729.5" y1="523.8" x2="1733.5" y2="523.8" stroke="#222" stroke-width="1.3"/><text x="1790.5" y="532.1999999999999" font-family="'Liberation Serif','Times New Roman',serif" font-size="36.5" text-anchor="end" >-6</text><line x1="1708" y1="593.1" x2="1712" y2="593.1" stroke="#222" stroke-width="1.3"/><line x1="1729.5" y1="593.1" x2="1733.5" y2="593.1" stroke="#222" stroke-width="1.3"/><text x="1790.5" y="601.55" font-family="'Liberation Serif','Times New Roman',serif" font-size="36.5" text-anchor="end" >-7</text><line x1="1708" y1="662.5" x2="1712" y2="662.5" stroke="#222" stroke-width="1.3"/><line x1="1729.5" y1="662.5" x2="1733.5" y2="662.5" stroke="#222" stroke-width="1.3"/><text x="1790.5" y="670.9" font-family="'Liberation Serif','Times New Roman',serif" font-size="36.5" text-anchor="end" >-8</text><text x="1637.5" y="41.5" font-family="'Liberation Serif','Times New Roman',serif" font-size="35" text-anchor="start" >V/m</text><text x="1729" y="41.5" font-family="'Liberation Serif','Times New Roman',serif" font-size="35" text-anchor="start" >×10</text><text x="1782.5" y="28.8" font-family="'Liberation Serif','Times New Roman',serif" font-size="27" text-anchor="start" >7</text><text x="4.6" y="38.3" font-family="'Liberation Sans',Arial,sans-serif" font-size="42.5" text-anchor="start" font-weight="bold">(a)</text><text x="4.6" y="755.3" font-family="'Liberation Sans',Arial,sans-serif" font-size="42.5" text-anchor="start" font-weight="bold">(b)</text><text x="948" y="755" font-family="'Liberation Sans',Arial,sans-serif" font-size="42.5" text-anchor="start" font-weight="bold">(c)</text><g clip-path="url(#cpb)"><path d="M174.5,1073.6H175.5V1069.4H177.2V1081.9H179.1V1094.4H180.0V1092.4H181.0V1106.3H183.5V1111.7H184.4V1121.7H185.5V1122.2H188.0V1116.1H189.9V1132.4H191.4V1103.6H193.1V1108.7H195.1V1003.4H196.4V1044.0H197.4V1050.5H199.6V1037.7H201.6V1138.9H203.4V1103.0H205.6V1145.5H207.4V1096.5H210.0V1080.9H211.1V1080.1H212.9V1076.0H214.6V1055.6H216.1V1054.0H217.9V1055.1H219.1V972.3H221.4V911.9H223.7V972.3H224.8V954.9H226.4V1005.8H227.7V1001.7H228.7V1027.3H231.1V1038.2H232.7V1014.8H233.7V1032.3H235.7V1014.5H236.9V985.4H239.3V985.5H240.5V987.9H241.4V988.7H242.5V994.9H244.0V979.6H245.6V864.5H248.0V973.6H250.1V928.4H251.5V890.7H252.3V916.8H253.4V892.2H256.0V890.7H257.6V929.9H259.7V1000.2H260.6V966.8H261.4V988.7H263.8V1040.9H265.6V1039.4H267.0V969.1H268.3V1014.3H269.3V1001.2H270.4V981.6H271.3V929.9H273.6V997.5H275.2V1041.6H276.2V972.3H278.4V1071.7H279.5V1078.9H280.4V1050.7H282.3V1054.3H284.7V1062.7H285.6V1070.3H287.8V1088.4H289.0V1068.9H289.9V1076.9H290.8V1070.3H292.1V1089.4H294.2V1077.5H295.9V1070.3H298.2V1135.7H299.4V1093.7H300.8V1050.7H302.0V1034.1H304.6V1021.3H307.1V1086.7H308.5V1070.3H310.1V1119.3H311.5V1112.7H313.6V1116.1H314.5V1142.2H315.4V1074.8H316.9V1026.6H318.2V988.7H320.5V967.2H322.6V957.5H324.4V947.8H326.4V986.3H328.4V1021.3H330.6V1086.7H333.1V1021.3H334.2V1054.0H336.1V1064.5H337.2V1069.2H338.8V1021.3H341.0V1027.1H343.4V972.3H345.6V952.6H346.4V946.0H347.9V900.5H349.0V942.9H351.6V916.8H352.6V962.5H353.9V939.0H355.3V949.5H356.2V974.7H358.6V970.0H360.5V956.0H361.6V967.6H363.3V964.4H364.3V959.3H366.2V956.9H367.4V956.0H368.2V988.2H369.2V956.0H371.0V995.2H373.0V835.1H374.4V956.0H376.3V864.5H377.8V968.4H378.8V890.7H380.2V1021.3H381.7V1021.3H384.1V1050.7H385.1V1029.6H386.1V999.4H387.9V995.2H390.4V1044.2H392.9V1005.0H394.9V987.6H395.9V1049.8H398.1V982.1H400.1V975.6H401.2V1093.2H402.8V1094.2H403.7V1106.3H406.0V1106.6H408.1V1106.3H410.3V1101.6H412.5V1075.8H413.8V1070.3H416.0V1069.2H417.2V1070.5H418.3V1073.6H419.8V1116.1H421.5V1045.6H422.8V1031.1H424.7V1031.8H426.6V1056.2H427.8V1040.9H429.7V1073.6H431.2V1060.6H433.3V1054.0H434.6V1079.1H436.8V1050.0H438.4V1011.5H440.2V1023.6H442.2V1044.2H443.9V1038.1H445.2V1032.1H447.8V1021.3H448.7V1005.3H450.1V1012.3H451.9V997.8H452.7V946.2H453.8V972.5H456.1V1028.2H458.3V1014.8H460.2V1050.1H462.6V1021.3H464.8V1054.0H466.1V994.4H468.1V929.9H469.5V970.5H471.7V900.5H473.2V942.9H474.2V885.5H476.6V867.8H478.7V861.4H480.8V864.5H482.6V942.9H484.8V936.4H486.4V988.7H488.2V939.7H489.2V971.8H491.0V968.9H493.2V962.5H495.3V981.8H497.5V986.0H499.2V975.6H501.6V933.9H502.6V920.1H505.0V1021.3H506.5V978.7H507.4V1005.0H509.3V1001.5H510.9V1042.0H512.5V1005.0H514.9V1028.3H515.9V1057.7H517.8V1054.0H519.4V1071.8H521.1V1067.5H522.8V1070.3H523.8V1086.7H525.6V1043.3H527.9V975.6H529.0V1054.0H529.9V975.2H530.8V988.7H532.4V1032.9H535.0V1081.7H535.8V1086.7H538.4V1106.3H540.2V1081.1H541.2V1070.3H542.8V1085.7H543.9V1086.7H546.0V1142.2H547.8V1071.3H549.1V1060.5H550.4V1103.0H552.7V1023.0H554.9V946.2H556.5V988.7H558.0V982.1H560.1V1054.0H562.7V1037.7H563.6V1065.9H564.7V1018.6H566.2V1017.9H567.9V988.7H568.8V1000.2H569.7V999.8H570.9V1000.0H572.4V985.4H574.5V1020.0H576.4V1028.7H577.3V939.7H578.2V984.7H579.8V946.5H582.2V880.9H584.6V900.5H586.1V913.5H588.5V929.9H590.9V936.4H592.5V972.3H594.6V973.2H596.1V956.0H597.1V995.2H599.0V993.4H599.9V956.3H601.9V923.3H604.2V988.7H606.6V844.9H608.2V953.5H609.2V956.0H611.7V979.2H614.0V910.3H616.6V936.7H618.4V956.0H620.5V1011.9H621.9V1019.7H623.1V1044.5H624.4V1037.7H626.5V1041.4H627.9V997.9H629.9V988.7H631.6V992.0H633.2V939.7H635.8V972.3H636.9V1070.3H638.5V1078.2H639.6V1102.9H642.1V1086.7H643.8V1145.5H645.2V1088.7H646.3V1096.5H648.2V1135.7H649.7V1146.1H650.7V1146.3H651.6V1103.0H653.1V1126.7H654.9V1087.9H656.7V1031.1H659.1V1070.3H661.5V1070.3H664.0V1103.0H666.2V1060.5H667.9V1067.6H669.6V1075.4H671.2V1086.7H672.7V1106.3H673.6V1070.7H675.8V1051.6H677.0V1037.7H677.9V1054.0H679.5V1016.8H681.6V939.7H683.2V985.5H684.7V990.8H686.6V994.1H687.7V991.7H688.6V992.3H690.4V956.0H692.2V995.2H694.5V972.3H696.1V1005.0H698.3V943.6H699.1V940.7H700.0V923.3H701.9V968.2H703.1V938.7H704.0V933.4H705.0V929.9H706.5V988.7H707.9V864.5H709.7V919.7H712.1V890.7H713.6V938.8H714.7V930.8H716.5V923.3H717.3V962.5H718.8V967.2H720.2V968.8H721.7V956.0H722.6V969.1H724.4V984.9H726.3V972.3H728.5V984.4H731.0V942.9H732.4V988.7H734.4V890.7H736.0V923.3H737.2V996.2H739.6V972.3H741.7V1053.1H744.2V1054.0H746.5V1086.7H749.0V1086.7H750.0V1076.3H750.8V1068.3H752.0V1052.1H753.5V1037.7H755.6V1036.3H757.2V1025.1H758.9V1014.8H761.0V1079.6H762.0V1091.5H764.0V1086.7H764.9V1119.3H766.1V1102.5H768.2V1080.1H770.3V1088.3H771.8V1103.3H773.1V1096.5H775.4V1133.1H776.7V1119.3H777.6V1161.8H778.8V1101.7H779.6V1088.6H781.9V1040.9H782.9V1086.7H785.5V1007.0H786.7V965.8H788.0V988.7H789.9V1046.2H791.2V1037.7H792.7V1070.3H793.7V1028.3H795.2V1028.5H796.0V1014.8H797.2V1037.7H799.7V1027.3H801.0V995.2H802.3V990.0H804.3V980.7H806.7V972.3H808.0V1021.3H809.5V918.9H811.6V900.5H813.8V923.3H815.7V956.0H816.8V988.7H818.0V982.6H820.1V956.0H822.2V972.3H824.6V929.9H826.8V963.3H828.4V963.0H829.4V956.0H831.8V950.8H833.9V900.5H835.7V916.8H837.7V961.1H839.2V923.3H840.6V1001.4H842.5V1027.6H844.1V946.2H846.2V1000.4H848.7V972.3H851.0V1014.8H852.5V1031.0H854.0V1037.7H856.5V1058.6H858.0V1047.5H860.2V1031.2H861.2V1021.4H862.8V1005.0H864.5V1070.3H866.8V1063.8H869.2V1093.8H870.0V1086.2" fill="none" stroke="#ff0000" stroke-width="2.2" stroke-linejoin="miter"/><path d="M174.5,1158.4H175.8V1164.0H178.3V1171.5H179.4V1164.5H180.5V1163.4H181.9V1161.8H183.2V1194.0H185.2V1162.1H186.2V1193.3H188.6V1165.1H190.9V1201.0H191.7V1192.9H193.5V1092.1H194.5V1058.9H195.8V1057.6H197.3V1139.4H198.9V1086.7H200.6V1165.4H203.1V1138.9H204.3V1184.7H205.5V1198.1H207.5V1168.3H210.0V1103.0H212.4V1121.1H214.8V1117.4H215.7V1103.0H218.2V1054.0H220.2V1086.7H222.6V1040.9H224.1V1054.0H225.3V1080.2H227.5V1073.6H229.5V1093.0H231.7V1096.5H232.9V1091.5H233.9V1081.9H236.1V1104.3H236.9V1060.5H239.4V1099.7H240.5V1063.4H242.3V1067.1H243.9V1078.2H245.3V1045.9H246.4V993.6H248.6V1040.2H251.0V1014.8H253.1V1103.0H255.0V1012.0H257.1V1014.8H258.9V1073.6H260.7V1086.7H263.1V1125.9H264.4V1118.2H265.6V1083.4H268.1V1080.3H270.6V995.2H272.3V1018.1H274.5V1027.1H276.7V1014.8H279.2V1077.4H280.1V1096.5H282.5V1112.8H284.2V1095.0H285.8V1096.5H287.9V1119.3H289.8V1123.6H291.4V1112.8H292.7V1130.9H295.1V1103.0H297.4V1161.8H298.4V1159.6H299.9V1086.7H302.1V1106.1H304.5V1119.3H307.0V1152.0H308.3V1125.9H310.7V1134.1H312.7V1142.7H313.6V1145.5H314.8V1127.1H316.0V1119.8H316.9V1107.4H318.9V1080.1H320.3V1152.0H322.3V1065.0H323.3V1031.1H325.6V1054.0H327.7V1080.1H329.9V1085.0H331.8V1099.8H333.4V1112.8H334.6V1113.7H337.1V1122.7H338.1V1106.3H339.9V1105.8H340.9V1121.4H341.9V1090.2H343.9V1086.7H346.3V1054.1H348.0V965.8H350.2V1014.8H352.5V969.1H354.3V1060.5H356.5V1096.5H357.8V1076.6H358.9V1090.4H360.0V1076.9H360.9V1094.3H361.8V1098.7H363.9V1073.6H366.4V1116.1H367.3V1019.2H369.4V988.7H371.6V1112.8H373.6V975.6H375.3V988.7H377.0V1026.6H379.0V1005.0H380.2V1054.0H382.4V1080.1H383.5V1116.1H384.4V1087.2H386.9V1086.7H387.9V1119.3H389.0V1097.9H389.9V1119.5H390.7V1143.5H391.8V1116.1H394.2V1121.3H396.3V1098.2H397.8V1040.9H398.6V1058.5H400.9V1047.5H402.6V1106.3H404.9V1144.0H406.6V1145.3H407.6V1190.4H408.5V1119.3H410.7V1119.5H411.9V1104.4H413.0V1086.7H414.5V1152.0H415.8V1163.4H417.1V1145.9H419.3V1132.4H421.0V1105.7H423.5V1086.7H424.5V1119.3H425.9V1078.9H428.2V1060.5H429.8V1086.7H432.0V1161.3H433.6V1135.7H435.1V1191.2H437.5V1112.8H438.9V1145.5H440.7V1136.1H442.5V1086.7H443.4V1125.9H444.3V1078.2H445.6V1076.6H446.4V1091.6H448.4V1037.7H450.2V1028.9H451.7V1139.5H453.2V1031.1H454.1V1152.0H455.6V1135.7H457.9V1086.7H458.8V1119.3H460.8V1099.7H462.8V1103.0H464.0V1079.4H465.3V1087.5H466.5V1072.6H468.3V1031.1H469.7V1025.5H470.8V1025.0H472.1V1027.9H473.3V1073.6H475.9V994.7H477.8V956.0H479.5V972.9H481.2V959.3H483.0V1021.3H485.6V1054.0H487.0V1059.9H487.9V1063.4H489.1V1014.8H489.9V1080.1H491.1V1035.4H492.9V1063.8H494.2V1061.8H496.5V1098.1H499.0V1070.3H500.0V1082.7H502.3V1070.8H504.3V1021.3H506.9V1086.7H508.0V1093.2H510.2V1105.3H511.6V1097.1H512.7V1103.0H514.0V1142.2H516.5V1098.4H518.2V1086.7H519.7V1092.0H522.1V1119.3H524.5V1161.8H526.9V1093.0H527.7V1080.1H530.3V1086.7H532.3V1095.8H534.8V1119.2H537.0V1135.7H539.4V1152.9H541.8V1125.9H543.8V1119.3H544.8V1168.3H546.8V1150.3H547.7V1148.6H549.1V1103.0H550.4V1161.8H551.8V1064.8H554.0V1040.9H556.4V1044.2H558.8V1086.7H560.8V1140.9H562.9V1103.0H564.0V1161.8H565.4V1086.8H567.6V1080.1H569.2V1103.4H570.9V1095.2H573.1V1054.0H574.3V1089.1H576.7V1021.3H578.8V1086.7H579.8V994.7H581.3V985.4H583.8V1008.3H585.1V1022.1H585.9V1070.6H587.0V1040.9H588.8V1042.1H589.8V1035.0H590.7V1033.3H591.7V1034.4H594.0V1060.2H596.5V1005.0H597.6V1048.4H599.4V1022.2H601.4V1034.4H602.3V1060.5H604.7V1014.8H606.9V1037.7H608.9V1086.7H610.5V1096.6H612.8V1110.9H615.1V1040.9H616.4V1093.2H617.6V1065.7H620.2V1073.6H621.8V1106.3H623.4V1054.0H625.9V1086.7H628.0V1047.7H630.1V1047.5H632.4V1040.9H634.7V1060.0H636.7V1103.0H639.3V1105.3H641.5V1119.3H643.8V1152.0H646.1V1128.3H647.0V1103.0H649.6V1135.7H651.7V1106.3H652.7V1135.7H654.8V1076.3H656.9V1050.7H658.6V1113.1H659.9V1088.7H661.7V1119.3H662.8V1171.6H664.3V1164.1H666.2V1125.9H668.3V1152.0H670.1V1147.4H672.5V1099.7H674.9V1117.7H677.3V1086.7H679.2V1075.1H680.4V1065.2H681.3V1050.7H683.1V1066.0H684.9V1066.1H685.7V1067.5H686.7V1069.4H689.3V1060.5H691.4V1080.1H693.9V1041.0H695.2V1037.7H696.8V1066.1H698.7V1072.2H700.2V1005.0H701.0V1116.1H702.7V1111.0H704.7V946.2H706.1V969.5H708.6V949.5H711.1V972.3H711.9V997.4H713.5V1006.0H715.4V1028.8H716.9V1014.8H719.5V1066.8H720.8V1037.7H723.2V1070.3H724.6V1108.6H727.0V1070.3H728.0V1090.5H730.3V1021.3H732.7V1034.4H734.5V1021.3H735.8V1049.8H737.3V1075.0H738.4V1047.5H739.7V1111.5H741.4V1084.6H743.1V1119.3H744.8V1136.2H747.1V1141.5H748.3V1119.3H750.5V1125.6H752.9V1133.7H754.3V1135.7H755.2V1147.6H757.5V1131.8H759.6V1109.5H761.3V1122.2H763.8V1135.7H765.0V1152.0H767.1V1187.3H769.1V1152.0H770.6V1152.5H772.8V1152.0H773.8V1147.0H775.2V1139.6H776.8V1135.7H779.4V1114.7H781.6V1086.7H782.5V1118.3H784.4V1096.9H785.4V1084.3H786.9V1047.5H789.5V1109.6H790.8V1132.0H791.7V1119.3H794.2V1107.7H795.4V1103.0H797.3V1092.7H798.5V1110.0H801.0V1070.3H803.2V1161.8H805.4V1074.4H806.4V1021.3H807.9V1086.7H810.2V1029.9H811.5V1021.3H812.5V1045.4H814.9V1064.5H816.1V1070.3H818.0V1103.0H819.2V1035.5H820.2V1021.3H821.9V1086.7H823.8V1059.9H826.0V1086.7H828.5V1059.9H830.2V1005.0H832.2V1008.5H833.6V985.4H836.0V998.5H837.4V1052.0H838.3V1005.0H839.5V1083.0H840.5V1106.8H842.5V1131.4H843.6V1112.8H845.2V1152.0H846.6V1149.8H848.8V1119.3H850.1V1152.0H851.4V1147.1H852.7V1146.7H853.8V1135.7H855.8V1143.0H857.5V1054.0H859.6V1135.7H860.6V1080.8H862.9V1031.1H864.6V1097.2H867.2V1093.2H869.8V1148.6H870.0V1135.3" fill="none" stroke="#0000ff" stroke-width="2.2"/></g><line x1="174.2" y1="1312.0" x2="174.2" y2="1301.0" stroke="#000" stroke-width="2.4"/><line x1="174.2" y1="751.3" x2="174.2" y2="762.3" stroke="#000" stroke-width="2.4"/><text x="174.2" y="1346.0" font-family="'Liberation Serif','Times New Roman',serif" font-size="30" text-anchor="middle" >0</text><line x1="246.8" y1="1312.0" x2="246.8" y2="1306.0" stroke="#000" stroke-width="2.4"/><line x1="246.8" y1="751.3" x2="246.8" y2="757.3" stroke="#000" stroke-width="2.4"/><line x1="319.4" y1="1312.0" x2="319.4" y2="1301.0" stroke="#000" stroke-width="2.4"/><line x1="319.4" y1="751.3" x2="319.4" y2="762.3" stroke="#000" stroke-width="2.4"/><text x="319.4" y="1346.0" font-family="'Liberation Serif','Times New Roman',serif" font-size="30" text-anchor="middle" >5</text><line x1="391.9" y1="1312.0" x2="391.9" y2="1306.0" stroke="#000" stroke-width="2.4"/><line x1="391.9" y1="751.3" x2="391.9" y2="757.3" stroke="#000" stroke-width="2.4"/><line x1="464.5" y1="1312.0" x2="464.5" y2="1301.0" stroke="#000" stroke-width="2.4"/><line x1="464.5" y1="751.3" x2="464.5" y2="762.3" stroke="#000" stroke-width="2.4"/><text x="464.5" y="1346.0" font-family="'Liberation Serif','Times New Roman',serif" font-size="30" text-anchor="middle" >10</text><line x1="537.1" y1="1312.0" x2="537.1" y2="1306.0" stroke="#000" stroke-width="2.4"/><line x1="537.1" y1="751.3" x2="537.1" y2="757.3" stroke="#000" stroke-width="2.4"/><line x1="609.7" y1="1312.0" x2="609.7" y2="1301.0" stroke="#000" stroke-width="2.4"/><line x1="609.7" y1="751.3" x2="609.7" y2="762.3" stroke="#000" stroke-width="2.4"/><text x="609.7" y="1346.0" font-family="'Liberation Serif','Times New Roman',serif" font-size="30" text-anchor="middle" >15</text><line x1="682.2" y1="1312.0" x2="682.2" y2="1306.0" stroke="#000" stroke-width="2.4"/><line x1="682.2" y1="751.3" x2="682.2" y2="757.3" stroke="#000" stroke-width="2.4"/><line x1="754.8" y1="1312.0" x2="754.8" y2="1301.0" stroke="#000" stroke-width="2.4"/><line x1="754.8" y1="751.3" x2="754.8" y2="762.3" stroke="#000" stroke-width="2.4"/><text x="754.8" y="1346.0" font-family="'Liberation Serif','Times New Roman',serif" font-size="30" text-anchor="middle" >20</text><line x1="827.4" y1="1312.0" x2="827.4" y2="1306.0" stroke="#000" stroke-width="2.4"/><line x1="827.4" y1="751.3" x2="827.4" y2="757.3" stroke="#000" stroke-width="2.4"/><line x1="174.2" y1="1216.6" x2="185.2" y2="1216.6" stroke="#000" stroke-width="2.4"/><line x1="870.9" y1="1216.6" x2="859.9" y2="1216.6" stroke="#000" stroke-width="2.4"/><text x="159.2" y="1226.6" font-family="'Liberation Serif','Times New Roman',serif" font-size="30" text-anchor="end" >2.40</text><line x1="174.2" y1="1077.1" x2="185.2" y2="1077.1" stroke="#000" stroke-width="2.4"/><line x1="870.9" y1="1077.1" x2="859.9" y2="1077.1" stroke="#000" stroke-width="2.4"/><text x="159.2" y="1087.1" font-family="'Liberation Serif','Times New Roman',serif" font-size="30" text-anchor="end" >2.55</text><line x1="174.2" y1="937.6" x2="185.2" y2="937.6" stroke="#000" stroke-width="2.4"/><line x1="870.9" y1="937.6" x2="859.9" y2="937.6" stroke="#000" stroke-width="2.4"/><text x="159.2" y="947.6" font-family="'Liberation Serif','Times New Roman',serif" font-size="30" text-anchor="end" >2.70</text><line x1="174.2" y1="798.1" x2="185.2" y2="798.1" stroke="#000" stroke-width="2.4"/><line x1="870.9" y1="798.1" x2="859.9" y2="798.1" stroke="#000" stroke-width="2.4"/><text x="159.2" y="808.1" font-family="'Liberation Serif','Times New Roman',serif" font-size="30" text-anchor="end" >2.85</text><line x1="174.2" y1="1286.3" x2="180.2" y2="1286.3" stroke="#000" stroke-width="2.4"/><line x1="870.9" y1="1286.3" x2="864.9" y2="1286.3" stroke="#000" stroke-width="2.4"/><line x1="174.2" y1="1146.8" x2="180.2" y2="1146.8" stroke="#000" stroke-width="2.4"/><line x1="870.9" y1="1146.8" x2="864.9" y2="1146.8" stroke="#000" stroke-width="2.4"/><line x1="174.2" y1="1007.4" x2="180.2" y2="1007.4" stroke="#000" stroke-width="2.4"/><line x1="870.9" y1="1007.4" x2="864.9" y2="1007.4" stroke="#000" stroke-width="2.4"/><line x1="174.2" y1="867.9" x2="180.2" y2="867.9" stroke="#000" stroke-width="2.4"/><line x1="870.9" y1="867.9" x2="864.9" y2="867.9" stroke="#000" stroke-width="2.4"/><rect x="174.2" y="751.3" width="696.7" height="560.7" fill="none" stroke="#000" stroke-width="2.6"/><rect x="674.5" y="1209.2" width="172.39999999999998" height="76.5" fill="#fff" stroke="#000" stroke-width="1.3"/><line x1="678.5" y1="1228.8" x2="743.7" y2="1228.8" stroke="#ff0000" stroke-width="2.6"/><line x1="678.5" y1="1265.1" x2="743.7" y2="1265.1" stroke="#0000ff" stroke-width="2.6"/><text x="751.7" y="1239.6" font-family="'Liberation Serif','Times New Roman',serif" font-size="29" text-anchor="start" >up right</text><text x="751.7" y="1274.2" font-family="'Liberation Serif','Times New Roman',serif" font-size="29" text-anchor="start" >up left</text><text x="522.5" y="1397" font-family="'Liberation Serif','Times New Roman',serif" font-size="31" text-anchor="middle"><tspan font-style="italic" font-weight="bold">y</tspan> (μm)</text><text transform="translate(87.5,1031.7) rotate(-90)" font-family="'Liberation Serif','Times New Roman',serif" font-size="32" text-anchor="middle"><tspan font-style="italic">E</tspan><tspan font-size="20" dy="6" font-style="italic">z</tspan><tspan dy="-6"> ×10</tspan><tspan font-size="20" dy="-12">7</tspan><tspan dy="12">(V/m)</tspan></text><g clip-path="url(#cpc)"><path d="M1081.0,1112.7H1082.6V1089.7H1084.3V1054.3H1085.8V1076.7H1086.8V1075.7H1087.4V1059.4H1089.2V1078.1H1090.5V1067.0H1091.1V1064.5H1092.8V1068.2H1094.6V1067.9H1095.5V1069.7H1097.1V1082.4H1097.8V1072.2H1098.9V1115.7H1100.5V1102.9H1101.6V1147.2H1102.8V1046.6H1103.6V1100.7H1105.1V1073.8H1106.3V1044.1H1107.2V1049.2H1108.8V1043.9H1110.6V1018.5H1111.8V1039.0H1113.3V1018.9H1115.1V995.5H1115.7V1009.8H1117.0V1007.2H1118.8V993.0H1119.5V1005.7H1120.4V987.2H1121.7V987.8H1123.1V1026.5H1124.4V1039.0H1125.6V1052.2H1126.3V1042.5H1127.8V1041.3H1128.8V1026.2H1129.5V1039.0H1131.2V962.3H1132.6V965.8H1133.8V962.3H1135.2V1014.9H1136.4V961.6H1137.2V941.8H1138.5V936.9H1140.0V965.0H1141.5V941.8H1142.7V946.9H1144.4V929.0H1146.2V941.8H1147.8V926.5H1148.9V949.5H1149.8V936.7H1151.0V995.5H1152.4V962.3H1153.2V987.8H1154.5V955.9H1155.6V931.6H1156.2V944.4H1157.3V935.6H1158.4V931.6H1160.2V936.4H1160.8V940.4H1162.5V944.4H1164.2V977.6H1165.5V1000.9H1166.4V977.6H1167.9V1001.3H1168.7V1002.4H1169.7V1003.7H1171.1V982.7H1172.2V1026.9H1173.4V1037.1H1174.3V1039.0H1175.0V1054.3H1176.0V1043.1H1177.6V1051.8H1179.2V1077.3H1179.9V1076.4H1181.1V1082.7H1182.2V1064.5H1183.3V1054.0H1185.0V1046.5H1186.6V1031.3H1187.8V1039.0H1189.0V1033.9H1190.7V1035.1H1191.8V1036.5H1193.3V1039.0H1194.8V1054.3H1196.3V1041.8H1197.4V1033.9H1198.8V1039.0H1200.4V1085.5H1201.4V1077.3H1202.9V1090.4H1204.1V1079.1H1205.3V1056.9H1206.5V1058.7H1207.5V1064.3H1209.0V1064.5H1210.1V1072.2H1210.9V1064.8H1212.5V1056.9H1213.6V1065.1H1214.9V1069.0H1216.6V1064.5H1218.0V1072.2H1219.2V1060.8H1220.2V1049.2H1221.6V1054.3H1223.4V1050.6H1224.8V1049.2H1226.4V1113.1H1227.3V1112.6H1228.3V1090.1H1229.3V1085.6H1230.5V1083.1H1232.2V1039.0H1233.4V1064.5H1234.2V1031.9H1235.4V1016.0H1236.3V1012.4H1237.7V992.7H1238.7V974.5H1240.4V954.6H1241.6V975.0H1242.9V957.2H1244.2V957.5H1245.2V949.5H1247.0V949.5H1247.7V987.3H1249.2V971.2H1250.1V949.5H1250.8V1013.4H1251.6V954.7H1253.1V969.9H1254.8V984.5H1256.3V953.5H1257.2V916.2H1258.4V914.4H1259.2V910.7H1260.3V909.3H1261.2V898.4H1261.8V911.1H1262.8V913.7H1264.5V914.0H1265.7V911.1H1266.7V917.7H1267.4V923.7H1269.1V923.9H1269.8V926.5H1270.4V922.4H1271.2V920.8H1272.7V921.4H1274.4V944.1H1275.1V921.4H1276.5V988.7H1277.8V982.7H1279.1V988.7H1279.7V1001.7H1281.1V1003.5H1282.2V1008.3H1283.9V978.9H1285.7V957.2H1287.1V970.0H1287.8V977.5H1288.8V957.2H1290.2V969.7H1291.8V975.9H1292.9V967.4H1294.0V983.6H1295.3V997.0H1296.9V982.7H1297.8V985.9H1299.1V1025.8H1300.4V1018.5H1301.6V1077.4H1302.6V1089.7H1304.3V1059.4H1305.9V1100.3H1306.7V1062.5H1307.3V1074.5H1308.2V1056.9H1309.3V1050.5H1310.1V1035.2H1311.1V1020.9H1312.6V1003.2H1314.0V1028.8H1315.6V1049.2H1317.2V1059.4H1318.2V1050.9H1319.4V1054.3H1320.9V1064.5H1322.2V1043.6H1323.5V1026.2H1325.1V1085.7H1326.8V1104.7H1328.5V1115.7H1329.4V1131.0H1330.2V1127.1H1331.1V1123.4H1332.7V1077.0H1333.7V1016.0H1335.2V1085.0H1336.5V1014.7H1338.3V1018.5H1339.0V1028.7H1340.6V1029.7H1341.3V1023.6H1342.6V1024.3H1343.9V1027.1H1344.8V1028.4H1345.7V1023.6H1346.8V1034.1H1347.9V1039.8H1348.7V1042.4H1349.9V1039.0H1350.6V1044.3H1351.8V1040.8H1353.0V1039.0H1354.1V1044.1H1355.3V1011.9H1356.5V992.9H1357.8V977.6H1358.6V1013.2H1359.5V1015.3H1360.4V1003.2H1362.2V1023.6H1363.4V958.0H1364.8V893.2H1365.7V962.3H1366.9V887.2H1368.0V886.9H1368.9V893.2H1369.7V975.1H1370.6V918.8H1372.1V911.1H1373.6V975.1H1375.2V921.0H1376.2V911.1H1377.5V936.9H1378.9V982.7H1380.2V983.9H1381.8V990.9H1382.5V982.7H1383.9V1003.2H1384.7V941.6H1385.9V942.8H1386.9V898.4H1388.1V931.6H1389.6V933.5H1390.3V929.0H1391.0V934.1H1392.7V928.7H1393.9V929.0H1395.0V936.7H1395.8V929.3H1397.0V937.2H1398.4V931.6H1400.0V956.6H1401.1V967.6H1401.9V946.9H1403.4V975.1H1404.3V978.5H1405.8V977.6H1407.4V1021.1H1409.1V976.1H1409.9V977.6H1410.8V993.0H1411.9V986.9H1413.5V987.8H1414.6V1023.6H1415.7V1016.7H1417.3V1033.9H1418.1V1049.2H1418.8V1046.3H1419.5V1033.9H1420.7V1033.9H1421.6V1035.2H1422.6V1036.5H1423.8V1033.9H1425.0V1039.0H1426.1V1083.3H1426.9V1039.0H1428.4V1056.4H1430.1V1124.0H1431.4V1120.8H1432.3V1128.5H1434.1V1092.4H1434.9V1044.1H1436.5V1100.3H1437.9V1066.9H1438.8V1049.2H1440.1V1058.9H1441.3V1070.9H1442.0V1075.2H1443.1V1049.2H1444.6V1079.9H1446.0V1082.3H1446.8V1079.9H1447.6V1077.7H1449.1V1063.2H1449.7V1053.1H1451.1V1044.1H1452.4V1054.3H1453.4V1042.7H1454.5V1039.0H1455.7V1044.1H1456.4V1053.8H1458.1V1026.2H1459.2V1020.5H1460.6V1079.8H1461.4V1023.6H1463.0V1044.6H1464.4V1030.2H1465.4V1008.3H1467.0V1011.2H1468.7V1000.5H1469.8V972.5H1470.8V993.0H1472.4V972.9H1473.0V962.3H1474.7V953.4H1476.5V939.4H1477.2V921.4H1478.9V990.0H1479.8V997.1H1481.4V1000.6H1483.1V966.4H1483.9V950.7H1484.9V916.2H1486.6V950.1H1488.2V911.1H1489.6V931.5H1490.5V943.7H1492.0V957.7H1492.6V923.9H1493.5V928.4H1494.4V933.6H1495.1V926.4H1496.3V906.0H1496.9V907.8H1498.7V909.3H1499.9V913.7H1501.4V916.2H1502.6V978.8H1503.4V992.2H1504.5V911.1H1505.1V916.0H1506.1V923.3H1507.5V918.0H1508.3V911.1H1510.0V936.7H1511.3V937.4H1512.0V936.7H1513.1V944.4H1514.8V950.0H1515.7V952.0H1516.4V957.6H1517.3V964.6H1518.5V970.1H1519.6V972.5H1520.5V982.7H1521.6V974.7H1522.8V977.6H1524.3V975.6H1526.1V973.4H1527.4V972.5H1528.1V1010.7H1528.9V1033.9H1529.9V1064.4H1531.6V1077.3H1532.3V1075.9H1533.6V1076.3H1534.7V1077.3H1535.6V1085.0H1537.0V1052.1H1538.5V1016.0H1540.0V1056.9H1540.9V1017.5H1541.7V1019.3H1542.5V1023.6H1543.4V1054.3H1544.3V1043.0H1545.5V1037.8H1546.5V1000.6H1547.8V1039.0H1549.6V1039.0H1551.1V1051.8H1551.8V1044.5H1553.6V1054.3H1554.6V1063.7H1555.5V1081.4H1556.3V1082.4H1557.0V1133.6H1558.0V1075.2H1559.1V1063.4H1559.8V1044.1H1561.6V1090.1H1562.7V1067.6H1564.0V1049.2H1564.9V1054.7H1566.6V1054.0H1568.3V1049.2H1569.4V1054.3H1570.0V1047.5H1571.4V1049.2H1572.4V1039.0H1573.2V1049.2H1574.4V1010.1H1575.8V995.5H1577.2V1021.8H1577.9V1047.0H1579.6V993.0H1580.8V1067.9H1582.5V1042.8H1583.6V1062.0H1585.3V1067.1H1586.9V984.8H1587.5V969.9H1589.2V1059.4H1590.6V987.1H1591.9V946.9H1592.5V946.7H1593.9V941.1H1595.3V936.7H1596.9V933.9H1598.0V927.0H1598.6V924.6H1600.1V921.4H1601.2V922.4H1602.2V923.5H1603.6V918.8H1604.2V926.5H1604.9V925.3H1606.6V936.7H1608.3V920.3H1609.8V939.0H1611.0V877.9H1612.1V911.1H1612.9V924.7H1613.5V929.1H1615.1V885.6H1616.0V924.4H1617.5V912.7H1618.2V925.7H1619.1V921.4H1620.2V931.6H1621.2V922.4H1622.1V923.9H1623.6V920.7H1624.3V925.8H1625.6V918.1H1626.9V906.0H1628.1V939.0H1628.9V967.9H1630.3V954.6H1631.8V1044.1H1633.1V1049.4H1634.4V1039.0H1635.6V1022.5H1636.7V1013.6H1638.0V977.6H1639.3V1003.2H1640.2V984.1H1641.8V982.7H1642.8V991.3H1643.5V991.5H1644.9V1003.2H1646.5V1036.2H1647.3V1061.6H1647.9V1039.0H1648.9V1102.9H1649.8V1033.9H1650.6V1066.5H1651.5V1054.7H1652.6V1033.9H1653.5V1049.2H1654.7V1048.6H1655.8V1054.3H1656.9V1059.4H1657.6V1083.7H1659.1V1085.0H1660.5V1117.1H1661.7V1116.6H1662.7V1102.9H1664.5V1120.8H1666.0V1079.5H1667.6V1044.1H1668.9V1048.7H1670.2V1042.2H1671.6V1039.0H1672.6V1044.1H1673.5V1044.2H1675.0V1049.2H1676.0V1059.4H1676.6V1058.3H1677.8V1060.5H1679.4V1059.4H1680.5V1064.5H1681.8V1099.8H1683.5V1085.0H1684.2V1096.7H1685.1V1093.8H1685.7V1090.3H1686.7V1077.3H1687.5V1085.0H1688.8V1048.1H1689.8V1036.0H1690.5V1026.2H1691.9V1051.8H1693.4V1039.0H1695.1V1037.3H1696.2V1039.1H1697.4V1023.1H1698.8V993.0H1700.4V1013.4H1702.2V993.0H1703.2V995.5H1704.0V976.1H1705.0V980.6H1705.9V944.4H1707.4V975.1H1708.7V984.7H1709.5V944.4H1710.8V936.4H1712.2V945.0H1713.4V936.7H1714.9V962.3H1715.6V929.3H1717.0V931.6H1717.7V1013.4H1719.3V969.1H1720.6V941.8H1722.2V962.3H1722.9V925.2H1723.8V933.7H1725.4V908.6H1726.1V921.4H1727.1V918.2H1728.6V918.8H1730.2V921.4H1731.0V918.6H1731.7V919.2H1733.0V918.8H1733.9V920.8H1734.9V912.8H1735.5V928.6H1736.6V916.2H1738.1V944.5H1739.4V958.5H1740.1V975.1H1740.7V1010.9H1742.4V997.3H1743.8V982.7H1744.6V986.2H1745.9V988.8H1747.5V985.3H1749.1V990.4H1750.5V985.2H1751.2V987.8H1752.8V1018.5H1754.2V1016.3H1755.8V998.1H1757.0V1013.4H1758.6V1045.0H1760.2V1018.5H1761.2V1051.8H1762.0V1051.8H1763.3V1101.6H1764.2V1107.8H1765.2V1115.3H1766.1V1026.2H1767.1V1122.9H1768.2V1125.1H1769.6V1128.1H1770.0V1128.3" fill="none" stroke="#ff0000" stroke-width="2.2" stroke-linejoin="miter"/><path d="M1081.0,1123.9H1082.6V1112.0H1083.6V1105.5H1085.1V1125.9H1086.7V1126.9H1088.1V1105.5H1089.3V1121.9H1090.8V1100.3H1092.3V1115.7H1093.5V1112.3H1094.8V1100.3H1096.3V1121.2H1096.9V1125.4H1098.3V1108.0H1099.8V1115.7H1100.9V1171.0H1102.1V1156.0H1102.9V1105.5H1104.3V1100.9H1106.1V1101.4H1107.1V1100.3H1108.2V1105.5H1109.9V1167.7H1111.1V1115.7H1112.2V1151.9H1113.6V1121.6H1114.3V1077.3H1115.1V1115.7H1116.7V1081.0H1117.5V1079.7H1118.1V1077.3H1119.9V1078.6H1121.4V1082.4H1123.1V1092.9H1124.6V1105.5H1126.3V1123.4H1127.4V1110.0H1128.9V1113.1H1129.7V1123.4H1131.3V1077.3H1132.7V1092.1H1133.6V1069.7H1134.4V1062.7H1135.2V1066.7H1136.8V1018.5H1138.2V1015.8H1139.1V1014.9H1140.5V1023.1H1141.9V1013.4H1143.3V1014.9H1145.1V1000.6H1146.7V1010.1H1147.9V998.1H1148.5V1001.8H1149.4V1068.1H1150.1V1013.4H1151.6V1085.0H1153.2V1064.5H1154.0V1095.2H1155.8V1023.6H1156.8V1037.9H1157.9V1026.9H1159.2V1016.0H1161.0V1026.2H1162.7V1039.0H1163.5V1062.0H1165.1V1042.0H1166.0V1045.1H1167.5V1046.6H1168.9V1062.0H1169.7V1044.1H1170.4V1039.0H1172.1V1044.1H1172.7V1091.6H1173.5V1109.2H1175.3V1064.5H1176.7V1110.1H1178.0V1115.7H1179.1V1123.4H1180.4V1097.9H1181.6V1095.6H1182.2V1074.8H1183.1V1090.1H1184.1V1070.8H1185.3V1075.6H1186.4V1062.0H1187.8V1072.2H1189.4V1074.8H1190.9V1083.2H1192.1V1087.0H1193.1V1083.8H1193.8V1085.0H1194.8V1094.5H1196.3V1114.6H1197.4V1105.5H1198.3V1121.3H1199.1V1124.0H1200.4V1132.6H1201.7V1125.9H1202.3V1138.7H1203.2V1125.0H1203.9V1119.5H1204.7V1100.3H1205.6V1100.3H1206.3V1102.2H1208.1V1106.8H1209.4V1102.9H1210.2V1101.9H1211.4V1102.2H1212.5V1102.9H1213.3V1102.4H1214.4V1104.0H1215.7V1099.0H1216.4V1097.8H1218.1V1105.5H1219.3V1111.3H1220.0V1100.3H1221.5V1113.1H1223.2V1145.8H1223.8V1113.1H1225.2V1125.7H1226.8V1140.7H1228.0V1151.5H1228.7V1158.2H1230.2V1131.3H1231.2V1105.1H1232.1V1067.1H1233.7V1079.3H1234.3V1080.2H1235.2V1062.0H1236.8V1066.3H1237.6V1064.9H1238.3V1062.6H1239.0V1056.9H1240.3V1059.4H1241.3V1052.7H1242.5V1057.1H1244.2V1049.2H1245.1V1054.3H1246.6V1036.4H1247.9V1039.0H1249.3V1056.8H1249.9V1033.9H1250.6V1085.0H1251.4V1053.0H1252.5V1082.7H1253.5V1085.0H1254.5V1100.3H1256.1V1091.9H1257.4V1090.1H1258.4V1102.9H1259.7V1053.1H1261.4V1023.6H1262.2V1028.8H1263.3V1020.1H1264.1V1017.4H1265.4V1013.4H1266.1V1018.5H1267.1V1008.9H1268.9V998.1H1270.6V1003.2H1271.2V990.7H1272.3V985.3H1273.8V993.0H1275.4V987.8H1276.4V1105.5H1277.8V1069.7H1279.3V1105.5H1280.4V1070.0H1281.1V1064.5H1282.7V1072.2H1284.2V1043.5H1285.4V1028.8H1287.0V1033.9H1288.8V1036.7H1289.6V1033.9H1290.2V1041.8H1291.6V1045.0H1292.4V1041.5H1294.1V1039.0H1295.6V1049.2H1296.7V1036.4H1298.3V1059.4H1300.0V1076.8H1301.5V1033.9H1302.4V1079.9H1303.6V1117.6H1304.2V1105.5H1305.6V1137.6H1306.6V1153.6H1307.4V1152.4H1308.2V1105.5H1309.2V1154.0H1310.8V1143.7H1311.4V1154.3H1312.2V1125.9H1313.1V1123.2H1314.7V1126.2H1315.5V1115.7H1317.2V1123.4H1318.8V1113.0H1319.9V1102.9H1321.2V1115.7H1322.7V1108.6H1324.2V1100.3H1325.1V1115.7H1326.7V1154.0H1328.2V1131.0H1328.9V1166.8H1329.5V1164.8H1330.9V1154.0H1332.5V1171.9H1333.9V1059.4H1335.5V1069.6H1336.1V1069.4H1337.8V1064.5H1338.8V1068.5H1339.9V1071.1H1341.5V1072.2H1342.7V1076.9H1343.9V1067.7H1344.6V1069.7H1346.3V1064.5H1347.6V1065.2H1348.2V1065.5H1349.4V1067.1H1350.8V1085.0H1352.0V1088.7H1353.3V1102.9H1354.1V1105.2H1355.9V1104.0H1357.1V1102.9H1357.8V1091.3H1358.7V1081.2H1360.3V1046.6H1361.8V1033.9H1363.1V1051.8H1364.0V1016.5H1365.4V1010.9H1367.0V1023.6H1367.8V1002.5H1368.5V1000.6H1370.0V1008.3H1371.3V999.7H1372.8V1000.6H1373.7V1003.2H1375.3V1010.6H1376.5V1003.2H1378.0V1013.4H1378.9V1013.4H1379.9V1082.4H1381.0V991.9H1382.0V982.7H1383.7V1002.4H1385.0V1047.3H1386.5V1008.3H1387.9V1018.5H1389.4V1027.2H1390.6V1018.5H1391.2V1046.1H1392.4V1023.7H1393.2V1020.1H1393.8V1010.9H1395.4V1028.8H1396.7V1028.2H1398.0V1033.9H1399.2V1044.1H1400.4V1033.0H1401.3V1033.0H1402.4V1033.9H1403.6V1074.3H1405.1V1032.9H1406.2V1039.0H1407.1V1120.8H1408.5V1128.6H1409.9V1039.0H1410.7V1125.9H1412.4V1130.3H1414.0V1039.0H1414.9V1125.9H1416.5V1096.8H1418.0V1082.4H1418.9V1084.8H1419.7V1082.4H1421.5V1090.1H1423.1V1076.0H1423.8V1049.2H1424.6V1148.9H1426.4V1107.6H1427.8V1090.1H1429.1V1140.4H1429.8V1150.6H1431.2V1131.0H1432.5V1166.8H1433.9V1106.5H1435.4V1085.0H1436.8V1151.5H1438.2V1090.1H1439.9V1090.6H1441.4V1094.9H1442.5V1100.3H1444.1V1115.9H1445.6V1125.9H1446.9V1105.5H1448.0V1132.9H1449.0V1129.0H1450.7V1069.7H1452.1V1171.9H1453.5V1150.8H1454.7V1049.2H1456.1V1109.9H1457.9V1062.0H1458.7V1128.5H1460.0V1105.5H1461.3V1069.7H1462.2V1069.7H1463.2V1077.3H1464.0V1073.1H1464.8V1082.2H1466.0V1077.3H1467.1V1085.0H1468.6V1107.9H1470.0V1082.4H1471.6V1095.0H1472.7V1054.3H1474.5V1072.2H1475.8V1063.4H1476.8V1039.0H1478.5V1030.9H1479.9V1018.4H1481.6V1010.9H1482.6V1039.0H1484.3V1039.8H1485.4V1008.3H1486.1V1064.5H1486.7V1005.3H1487.8V1010.5H1489.2V1005.7H1490.1V1009.2H1490.8V1017.3H1491.7V1019.2H1492.5V1005.7H1493.2V1010.9H1493.9V1014.3H1494.7V1021.2H1495.8V1021.9H1497.1V1023.6H1498.4V1026.6H1499.4V1028.6H1500.4V1023.6H1501.4V1037.1H1503.0V1061.7H1504.5V1028.8H1505.7V1035.5H1507.0V1054.4H1507.9V1054.3H1509.3V1077.3H1510.9V1031.9H1512.7V1016.0H1514.0V1030.0H1514.9V1035.3H1516.5V1026.2H1517.4V1032.7H1518.2V1049.7H1519.3V1041.5H1520.5V1054.3H1521.8V1062.8H1523.0V1062.0H1524.3V1063.3H1524.9V1067.5H1526.6V1069.7H1528.3V1079.9H1528.9V1086.2H1529.8V1074.1H1530.9V1077.3H1532.5V1143.8H1533.3V1119.7H1534.5V1128.5H1535.7V1141.2H1537.2V1138.9H1538.4V1059.4H1539.5V1105.1H1540.5V1112.6H1542.0V1124.3H1543.1V1115.7H1544.8V1114.1H1546.2V1108.0H1547.1V1115.7H1548.3V1111.2H1549.0V1108.5H1550.6V1100.3H1552.2V1105.5H1553.2V1101.6H1554.2V1105.5H1555.2V1161.7H1556.3V1141.2H1557.8V1171.9H1559.2V1139.4H1560.8V1095.2H1562.0V1115.3H1563.6V1077.3H1565.1V1082.4H1565.9V1079.1H1566.7V1074.4H1567.6V1069.7H1568.7V1072.2H1569.3V1075.8H1570.1V1078.0H1571.5V1064.5H1572.5V1082.4H1573.7V1082.4H1575.0V1050.5H1576.2V1049.2H1576.9V1079.9H1578.7V1095.3H1580.4V1049.2H1581.3V1097.8H1582.4V1119.2H1583.6V1108.0H1585.1V1123.8H1586.4V1121.3H1587.9V1036.4H1589.4V1115.7H1590.2V1083.0H1591.1V1044.8H1592.3V1039.0H1593.3V1058.3H1594.4V1060.8H1595.4V1049.2H1597.1V1060.4H1598.1V1053.4H1599.4V1059.4H1600.4V1090.1H1601.3V1053.9H1602.6V1039.9H1603.3V1003.2H1604.8V1077.3H1605.8V1011.8H1607.2V993.0H1607.9V1005.2H1608.9V1023.5H1610.5V1063.3H1611.3V1064.5H1612.8V1090.1H1613.9V1078.5H1615.4V1069.7H1616.3V1078.3H1617.9V1070.0H1619.0V1059.4H1619.8V1069.7H1621.5V1065.9H1622.8V1072.2H1623.9V1110.6H1625.7V1055.0H1626.5V1026.2H1627.6V1020.1H1629.0V1013.8H1630.4V1010.9H1632.1V1074.1H1632.9V1077.3H1634.4V1044.1H1635.1V1111.4H1636.0V1071.1H1637.7V1026.2H1638.5V1084.8H1639.3V1060.1H1639.9V1026.0H1641.1V1033.9H1642.7V1044.1H1643.6V1050.7H1644.2V1039.8H1645.1V1043.4H1646.0V1044.1H1646.6V1059.4H1647.3V1072.6H1648.4V1085.0H1649.5V1077.8H1650.3V1077.4H1651.8V1082.4H1653.4V1085.7H1654.7V1091.0H1655.4V1097.8H1657.0V1093.8H1658.5V1089.7H1659.6V1090.1H1661.0V1096.5H1661.9V1102.6H1662.7V1107.9H1664.4V1115.7H1666.1V1129.1H1667.1V1141.2H1668.6V1192.4H1669.3V1117.6H1670.3V1136.8H1671.8V1069.7H1672.6V1123.4H1673.3V1137.7H1674.6V1115.7H1676.3V1154.0H1677.7V1138.1H1679.5V1141.2H1680.2V1177.0H1681.2V1178.8H1682.6V1141.2H1683.6V1177.0H1685.2V1142.6H1686.1V1143.8H1687.7V1151.5H1688.7V1164.0H1689.8V1154.9H1691.0V1141.2H1692.6V1123.1H1694.0V1059.4H1695.0V1080.2H1696.5V1069.6H1697.1V1064.3H1698.5V1064.5H1700.2V1077.6H1701.7V1064.5H1703.2V1085.3H1703.9V1075.7H1704.8V1069.9H1706.6V1059.4H1707.3V1074.5H1708.2V1077.8H1709.7V1090.1H1710.8V1088.6H1712.5V1100.1H1714.0V1090.1H1715.6V1095.1H1716.6V1079.9H1718.4V1080.5H1720.0V1075.0H1721.5V1072.2H1723.3V1069.4H1724.9V1033.9H1726.0V1042.5H1727.6V1039.0H1728.8V1036.4H1729.5V1041.5H1730.3V1041.2H1731.9V1044.8H1733.3V1041.5H1733.9V1067.1H1734.9V1070.0H1736.6V1059.4H1738.1V1059.2H1739.1V1048.8H1740.8V1028.8H1742.0V1037.4H1743.7V1033.9H1744.9V1037.4H1745.6V1051.2H1746.6V1056.6H1748.1V1044.1H1749.2V1058.5H1750.7V1071.0H1751.5V1049.2H1753.2V1051.4H1754.5V1061.8H1755.4V1059.4H1756.8V1069.7H1758.6V1085.4H1759.9V1072.2H1760.6V1087.4H1761.2V1112.6H1762.3V1090.1H1762.9V1141.2H1764.7V1098.4H1765.7V1082.4H1767.1V1095.2H1768.0V1090.5H1769.1V1090.0H1770.0V1087.7" fill="none" stroke="#0000ff" stroke-width="2.2"/></g><line x1="1080.5" y1="1305.0" x2="1080.5" y2="1294.0" stroke="#000" stroke-width="2.4"/><line x1="1080.5" y1="748.8" x2="1080.5" y2="759.8" stroke="#000" stroke-width="2.4"/><text x="1080.5" y="1339.0" font-family="'Liberation Serif','Times New Roman',serif" font-size="30" text-anchor="middle" >0</text><line x1="1152.3" y1="1305.0" x2="1152.3" y2="1299.0" stroke="#000" stroke-width="2.4"/><line x1="1152.3" y1="748.8" x2="1152.3" y2="754.8" stroke="#000" stroke-width="2.4"/><line x1="1224.1" y1="1305.0" x2="1224.1" y2="1294.0" stroke="#000" stroke-width="2.4"/><line x1="1224.1" y1="748.8" x2="1224.1" y2="759.8" stroke="#000" stroke-width="2.4"/><text x="1224.1" y="1339.0" font-family="'Liberation Serif','Times New Roman',serif" font-size="30" text-anchor="middle" >5</text><line x1="1295.9" y1="1305.0" x2="1295.9" y2="1299.0" stroke="#000" stroke-width="2.4"/><line x1="1295.9" y1="748.8" x2="1295.9" y2="754.8" stroke="#000" stroke-width="2.4"/><line x1="1367.7" y1="1305.0" x2="1367.7" y2="1294.0" stroke="#000" stroke-width="2.4"/><line x1="1367.7" y1="748.8" x2="1367.7" y2="759.8" stroke="#000" stroke-width="2.4"/><text x="1367.7" y="1339.0" font-family="'Liberation Serif','Times New Roman',serif" font-size="30" text-anchor="middle" >10</text><line x1="1439.5" y1="1305.0" x2="1439.5" y2="1299.0" stroke="#000" stroke-width="2.4"/><line x1="1439.5" y1="748.8" x2="1439.5" y2="754.8" stroke="#000" stroke-width="2.4"/><line x1="1511.3" y1="1305.0" x2="1511.3" y2="1294.0" stroke="#000" stroke-width="2.4"/><line x1="1511.3" y1="748.8" x2="1511.3" y2="759.8" stroke="#000" stroke-width="2.4"/><text x="1511.3" y="1339.0" font-family="'Liberation Serif','Times New Roman',serif" font-size="30" text-anchor="middle" >15</text><line x1="1583.1" y1="1305.0" x2="1583.1" y2="1299.0" stroke="#000" stroke-width="2.4"/><line x1="1583.1" y1="748.8" x2="1583.1" y2="754.8" stroke="#000" stroke-width="2.4"/><line x1="1654.9" y1="1305.0" x2="1654.9" y2="1294.0" stroke="#000" stroke-width="2.4"/><line x1="1654.9" y1="748.8" x2="1654.9" y2="759.8" stroke="#000" stroke-width="2.4"/><text x="1654.9" y="1339.0" font-family="'Liberation Serif','Times New Roman',serif" font-size="30" text-anchor="middle" >20</text><line x1="1726.7" y1="1305.0" x2="1726.7" y2="1299.0" stroke="#000" stroke-width="2.4"/><line x1="1726.7" y1="748.8" x2="1726.7" y2="754.8" stroke="#000" stroke-width="2.4"/><line x1="1080.5" y1="1249.6" x2="1091.5" y2="1249.6" stroke="#000" stroke-width="2.4"/><line x1="1770.9" y1="1249.6" x2="1759.9" y2="1249.6" stroke="#000" stroke-width="2.4"/><text x="1067.0" y="1259.6" font-family="'Liberation Serif','Times New Roman',serif" font-size="30" text-anchor="end" >3.45</text><line x1="1080.5" y1="1166.2" x2="1091.5" y2="1166.2" stroke="#000" stroke-width="2.4"/><line x1="1770.9" y1="1166.2" x2="1759.9" y2="1166.2" stroke="#000" stroke-width="2.4"/><text x="1067.0" y="1176.2" font-family="'Liberation Serif','Times New Roman',serif" font-size="30" text-anchor="end" >3.60</text><line x1="1080.5" y1="1082.7" x2="1091.5" y2="1082.7" stroke="#000" stroke-width="2.4"/><line x1="1770.9" y1="1082.7" x2="1759.9" y2="1082.7" stroke="#000" stroke-width="2.4"/><text x="1067.0" y="1092.7" font-family="'Liberation Serif','Times New Roman',serif" font-size="30" text-anchor="end" >3.75</text><line x1="1080.5" y1="999.2" x2="1091.5" y2="999.2" stroke="#000" stroke-width="2.4"/><line x1="1770.9" y1="999.2" x2="1759.9" y2="999.2" stroke="#000" stroke-width="2.4"/><text x="1067.0" y="1009.2" font-family="'Liberation Serif','Times New Roman',serif" font-size="30" text-anchor="end" >3.90</text><line x1="1080.5" y1="915.7" x2="1091.5" y2="915.7" stroke="#000" stroke-width="2.4"/><line x1="1770.9" y1="915.7" x2="1759.9" y2="915.7" stroke="#000" stroke-width="2.4"/><text x="1067.0" y="925.7" font-family="'Liberation Serif','Times New Roman',serif" font-size="30" text-anchor="end" >4.05</text><line x1="1080.5" y1="832.3" x2="1091.5" y2="832.3" stroke="#000" stroke-width="2.4"/><line x1="1770.9" y1="832.3" x2="1759.9" y2="832.3" stroke="#000" stroke-width="2.4"/><text x="1067.0" y="842.3" font-family="'Liberation Serif','Times New Roman',serif" font-size="30" text-anchor="end" >4.20</text><line x1="1080.5" y1="748.8" x2="1091.5" y2="748.8" stroke="#000" stroke-width="2.4"/><line x1="1770.9" y1="748.8" x2="1759.9" y2="748.8" stroke="#000" stroke-width="2.4"/><text x="1067.0" y="758.8" font-family="'Liberation Serif','Times New Roman',serif" font-size="30" text-anchor="end" >4.35</text><line x1="1080.5" y1="1291.4" x2="1086.5" y2="1291.4" stroke="#000" stroke-width="2.4"/><line x1="1770.9" y1="1291.4" x2="1764.9" y2="1291.4" stroke="#000" stroke-width="2.4"/><line x1="1080.5" y1="1207.9" x2="1086.5" y2="1207.9" stroke="#000" stroke-width="2.4"/><line x1="1770.9" y1="1207.9" x2="1764.9" y2="1207.9" stroke="#000" stroke-width="2.4"/><line x1="1080.5" y1="1124.4" x2="1086.5" y2="1124.4" stroke="#000" stroke-width="2.4"/><line x1="1770.9" y1="1124.4" x2="1764.9" y2="1124.4" stroke="#000" stroke-width="2.4"/><line x1="1080.5" y1="1041.0" x2="1086.5" y2="1041.0" stroke="#000" stroke-width="2.4"/><line x1="1770.9" y1="1041.0" x2="1764.9" y2="1041.0" stroke="#000" stroke-width="2.4"/><line x1="1080.5" y1="957.5" x2="1086.5" y2="957.5" stroke="#000" stroke-width="2.4"/><line x1="1770.9" y1="957.5" x2="1764.9" y2="957.5" stroke="#000" stroke-width="2.4"/><line x1="1080.5" y1="874.0" x2="1086.5" y2="874.0" stroke="#000" stroke-width="2.4"/><line x1="1770.9" y1="874.0" x2="1764.9" y2="874.0" stroke="#000" stroke-width="2.4"/><line x1="1080.5" y1="790.5" x2="1086.5" y2="790.5" stroke="#000" stroke-width="2.4"/><line x1="1770.9" y1="790.5" x2="1764.9" y2="790.5" stroke="#000" stroke-width="2.4"/><rect x="1080.5" y="748.8" width="690.4000000000001" height="556.2" fill="none" stroke="#000" stroke-width="2.6"/><rect x="1526.9" y="1205.4" width="223.79999999999995" height="76.19999999999982" fill="#fff" stroke="#000" stroke-width="1.3"/><line x1="1530.8" y1="1224.8" x2="1596.8" y2="1224.8" stroke="#ff0000" stroke-width="2.6"/><line x1="1530.8" y1="1260.9" x2="1596.8" y2="1260.9" stroke="#0000ff" stroke-width="2.6"/><text x="1603.6" y="1234.3" font-family="'Liberation Serif','Times New Roman',serif" font-size="29" text-anchor="start" >bottom right</text><text x="1603.6" y="1270.0" font-family="'Liberation Serif','Times New Roman',serif" font-size="29" text-anchor="start" >bottom left</text><text x="1425.7" y="1390" font-family="'Liberation Serif','Times New Roman',serif" font-size="31" text-anchor="middle"><tspan font-style="italic" font-weight="bold">y</tspan> (μm)</text><text transform="translate(995,1026.9) rotate(-90)" font-family="'Liberation Serif','Times New Roman',serif" font-size="32" text-anchor="middle"><tspan font-style="italic">E</tspan><tspan font-size="20" dy="6" font-style="italic">z</tspan><tspan dy="-6"> ×10</tspan><tspan font-size="20" dy="-12">7</tspan><tspan dy="12">(V/m)</tspan></text>
</svg></body></html>
